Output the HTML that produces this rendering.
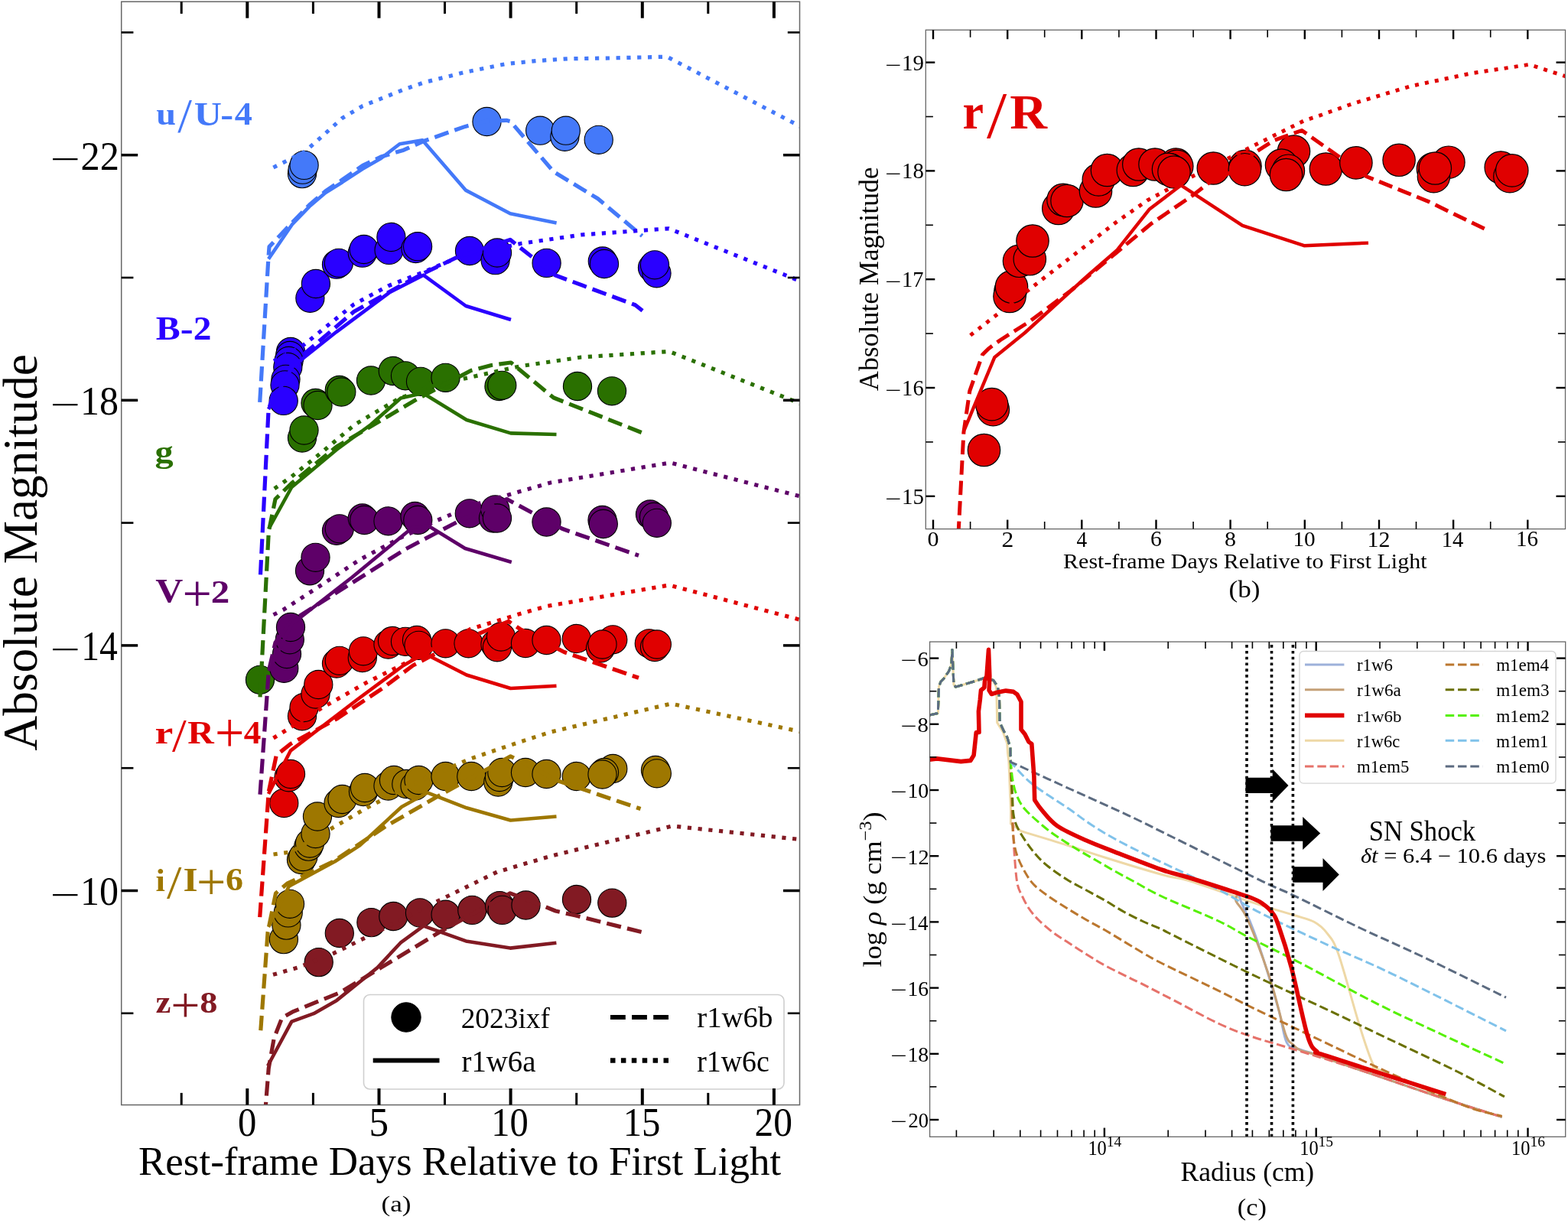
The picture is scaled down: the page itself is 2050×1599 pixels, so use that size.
<!DOCTYPE html>
<html><head><meta charset="utf-8"><title>Figure</title><style>html,body{margin:0;padding:0;background:#fff;}svg{display:block;}</style></head><body>
<svg width="2050" height="1599" viewBox="0 0 2050 1599"><defs><clipPath id="ca"><rect x="158.7" y="2.2" width="886.8" height="1442.4"/></clipPath><clipPath id="cb"><rect x="1210.3" y="39.2" width="836.2" height="652.4"/></clipPath><clipPath id="cc"><rect x="1215.6" y="839.1" width="831.1" height="647.2"/></clipPath></defs><rect width="100%" height="100%" fill="#fff"/><circle cx="395" cy="227.1" r="18.6" fill="#4479F9" stroke="#000" stroke-width="1.1" clip-path="url(#ca)"/>
<circle cx="395.6" cy="221.7" r="18.6" fill="#4479F9" stroke="#000" stroke-width="1.1" clip-path="url(#ca)"/>
<circle cx="397.6" cy="215.9" r="18.6" fill="#4479F9" stroke="#000" stroke-width="1.1" clip-path="url(#ca)"/>
<circle cx="636.5" cy="159" r="18.6" fill="#4479F9" stroke="#000" stroke-width="1.1" clip-path="url(#ca)"/>
<circle cx="706.2" cy="170.7" r="18.6" fill="#4479F9" stroke="#000" stroke-width="1.1" clip-path="url(#ca)"/>
<circle cx="738.4" cy="178.8" r="18.6" fill="#4479F9" stroke="#000" stroke-width="1.1" clip-path="url(#ca)"/>
<circle cx="739.8" cy="170.7" r="18.6" fill="#4479F9" stroke="#000" stroke-width="1.1" clip-path="url(#ca)"/>
<circle cx="782.7" cy="182.8" r="18.6" fill="#4479F9" stroke="#000" stroke-width="1.1" clip-path="url(#ca)"/>
<circle cx="380" cy="460" r="18.6" fill="#2A00FF" stroke="#000" stroke-width="1.1" clip-path="url(#ca)"/>
<circle cx="379.1" cy="465" r="18.6" fill="#2A00FF" stroke="#000" stroke-width="1.1" clip-path="url(#ca)"/>
<circle cx="377.5" cy="472" r="18.6" fill="#2A00FF" stroke="#000" stroke-width="1.1" clip-path="url(#ca)"/>
<circle cx="376.3" cy="480" r="18.6" fill="#2A00FF" stroke="#000" stroke-width="1.1" clip-path="url(#ca)"/>
<circle cx="373.5" cy="495.8" r="18.6" fill="#2A00FF" stroke="#000" stroke-width="1.1" clip-path="url(#ca)"/>
<circle cx="372.5" cy="503.3" r="18.6" fill="#2A00FF" stroke="#000" stroke-width="1.1" clip-path="url(#ca)"/>
<circle cx="370.7" cy="523.9" r="18.6" fill="#2A00FF" stroke="#000" stroke-width="1.1" clip-path="url(#ca)"/>
<circle cx="405.4" cy="389.8" r="18.6" fill="#2A00FF" stroke="#000" stroke-width="1.1" clip-path="url(#ca)"/>
<circle cx="412.9" cy="371" r="18.6" fill="#2A00FF" stroke="#000" stroke-width="1.1" clip-path="url(#ca)"/>
<circle cx="440" cy="345.7" r="18.6" fill="#2A00FF" stroke="#000" stroke-width="1.1" clip-path="url(#ca)"/>
<circle cx="442.9" cy="343.8" r="18.6" fill="#2A00FF" stroke="#000" stroke-width="1.1" clip-path="url(#ca)"/>
<circle cx="473.8" cy="330.7" r="18.6" fill="#2A00FF" stroke="#000" stroke-width="1.1" clip-path="url(#ca)"/>
<circle cx="475.7" cy="326" r="18.6" fill="#2A00FF" stroke="#000" stroke-width="1.1" clip-path="url(#ca)"/>
<circle cx="508.6" cy="326.9" r="18.6" fill="#2A00FF" stroke="#000" stroke-width="1.1" clip-path="url(#ca)"/>
<circle cx="511.4" cy="310" r="18.6" fill="#2A00FF" stroke="#000" stroke-width="1.1" clip-path="url(#ca)"/>
<circle cx="543.5" cy="325" r="18.6" fill="#2A00FF" stroke="#000" stroke-width="1.1" clip-path="url(#ca)"/>
<circle cx="546.1" cy="322.2" r="18.6" fill="#2A00FF" stroke="#000" stroke-width="1.1" clip-path="url(#ca)"/>
<circle cx="614" cy="328" r="18.6" fill="#2A00FF" stroke="#000" stroke-width="1.1" clip-path="url(#ca)"/>
<circle cx="647.6" cy="340.2" r="18.6" fill="#2A00FF" stroke="#000" stroke-width="1.1" clip-path="url(#ca)"/>
<circle cx="650" cy="330.5" r="18.6" fill="#2A00FF" stroke="#000" stroke-width="1.1" clip-path="url(#ca)"/>
<circle cx="714.6" cy="343.9" r="18.6" fill="#2A00FF" stroke="#000" stroke-width="1.1" clip-path="url(#ca)"/>
<circle cx="787.8" cy="341.5" r="18.6" fill="#2A00FF" stroke="#000" stroke-width="1.1" clip-path="url(#ca)"/>
<circle cx="790" cy="345" r="18.6" fill="#2A00FF" stroke="#000" stroke-width="1.1" clip-path="url(#ca)"/>
<circle cx="853" cy="350" r="18.6" fill="#2A00FF" stroke="#000" stroke-width="1.1" clip-path="url(#ca)"/>
<circle cx="858.5" cy="357.3" r="18.6" fill="#2A00FF" stroke="#000" stroke-width="1.1" clip-path="url(#ca)"/>
<circle cx="856" cy="346.3" r="18.6" fill="#2A00FF" stroke="#000" stroke-width="1.1" clip-path="url(#ca)"/>
<circle cx="340" cy="888.8" r="18.6" fill="#2A7000" stroke="#000" stroke-width="1.1" clip-path="url(#ca)"/>
<circle cx="395" cy="572.5" r="18.6" fill="#2A7000" stroke="#000" stroke-width="1.1" clip-path="url(#ca)"/>
<circle cx="397.5" cy="562.5" r="18.6" fill="#2A7000" stroke="#000" stroke-width="1.1" clip-path="url(#ca)"/>
<circle cx="412.5" cy="527" r="18.6" fill="#2A7000" stroke="#000" stroke-width="1.1" clip-path="url(#ca)"/>
<circle cx="415.5" cy="530" r="18.6" fill="#2A7000" stroke="#000" stroke-width="1.1" clip-path="url(#ca)"/>
<circle cx="443.8" cy="510" r="18.6" fill="#2A7000" stroke="#000" stroke-width="1.1" clip-path="url(#ca)"/>
<circle cx="446.3" cy="512.5" r="18.6" fill="#2A7000" stroke="#000" stroke-width="1.1" clip-path="url(#ca)"/>
<circle cx="485" cy="497.5" r="18.6" fill="#2A7000" stroke="#000" stroke-width="1.1" clip-path="url(#ca)"/>
<circle cx="513.8" cy="485" r="18.6" fill="#2A7000" stroke="#000" stroke-width="1.1" clip-path="url(#ca)"/>
<circle cx="530" cy="491.3" r="18.6" fill="#2A7000" stroke="#000" stroke-width="1.1" clip-path="url(#ca)"/>
<circle cx="550" cy="498.8" r="18.6" fill="#2A7000" stroke="#000" stroke-width="1.1" clip-path="url(#ca)"/>
<circle cx="582.5" cy="493.8" r="18.6" fill="#2A7000" stroke="#000" stroke-width="1.1" clip-path="url(#ca)"/>
<circle cx="652.5" cy="505" r="18.6" fill="#2A7000" stroke="#000" stroke-width="1.1" clip-path="url(#ca)"/>
<circle cx="656.3" cy="503.8" r="18.6" fill="#2A7000" stroke="#000" stroke-width="1.1" clip-path="url(#ca)"/>
<circle cx="755" cy="505" r="18.6" fill="#2A7000" stroke="#000" stroke-width="1.1" clip-path="url(#ca)"/>
<circle cx="800" cy="511.3" r="18.6" fill="#2A7000" stroke="#000" stroke-width="1.1" clip-path="url(#ca)"/>
<circle cx="371.3" cy="873.8" r="18.6" fill="#5E0068" stroke="#000" stroke-width="1.1" clip-path="url(#ca)"/>
<circle cx="375" cy="855" r="18.6" fill="#5E0068" stroke="#000" stroke-width="1.1" clip-path="url(#ca)"/>
<circle cx="378.8" cy="836.3" r="18.6" fill="#5E0068" stroke="#000" stroke-width="1.1" clip-path="url(#ca)"/>
<circle cx="380" cy="820" r="18.6" fill="#5E0068" stroke="#000" stroke-width="1.1" clip-path="url(#ca)"/>
<circle cx="405" cy="746.3" r="18.6" fill="#5E0068" stroke="#000" stroke-width="1.1" clip-path="url(#ca)"/>
<circle cx="412.5" cy="728.8" r="18.6" fill="#5E0068" stroke="#000" stroke-width="1.1" clip-path="url(#ca)"/>
<circle cx="440" cy="693.8" r="18.6" fill="#5E0068" stroke="#000" stroke-width="1.1" clip-path="url(#ca)"/>
<circle cx="443.8" cy="691.3" r="18.6" fill="#5E0068" stroke="#000" stroke-width="1.1" clip-path="url(#ca)"/>
<circle cx="473.8" cy="677.5" r="18.6" fill="#5E0068" stroke="#000" stroke-width="1.1" clip-path="url(#ca)"/>
<circle cx="476.3" cy="680" r="18.6" fill="#5E0068" stroke="#000" stroke-width="1.1" clip-path="url(#ca)"/>
<circle cx="507.5" cy="681.3" r="18.6" fill="#5E0068" stroke="#000" stroke-width="1.1" clip-path="url(#ca)"/>
<circle cx="542.5" cy="675" r="18.6" fill="#5E0068" stroke="#000" stroke-width="1.1" clip-path="url(#ca)"/>
<circle cx="546.3" cy="680" r="18.6" fill="#5E0068" stroke="#000" stroke-width="1.1" clip-path="url(#ca)"/>
<circle cx="613.8" cy="671.3" r="18.6" fill="#5E0068" stroke="#000" stroke-width="1.1" clip-path="url(#ca)"/>
<circle cx="645" cy="677.5" r="18.6" fill="#5E0068" stroke="#000" stroke-width="1.1" clip-path="url(#ca)"/>
<circle cx="647.5" cy="666.3" r="18.6" fill="#5E0068" stroke="#000" stroke-width="1.1" clip-path="url(#ca)"/>
<circle cx="650" cy="677.5" r="18.6" fill="#5E0068" stroke="#000" stroke-width="1.1" clip-path="url(#ca)"/>
<circle cx="714.5" cy="682.5" r="18.6" fill="#5E0068" stroke="#000" stroke-width="1.1" clip-path="url(#ca)"/>
<circle cx="787.5" cy="680" r="18.6" fill="#5E0068" stroke="#000" stroke-width="1.1" clip-path="url(#ca)"/>
<circle cx="788.8" cy="685" r="18.6" fill="#5E0068" stroke="#000" stroke-width="1.1" clip-path="url(#ca)"/>
<circle cx="850" cy="672.5" r="18.6" fill="#5E0068" stroke="#000" stroke-width="1.1" clip-path="url(#ca)"/>
<circle cx="855" cy="676" r="18.6" fill="#5E0068" stroke="#000" stroke-width="1.1" clip-path="url(#ca)"/>
<circle cx="858.8" cy="683.8" r="18.6" fill="#5E0068" stroke="#000" stroke-width="1.1" clip-path="url(#ca)"/>
<circle cx="371.3" cy="1050" r="18.6" fill="#E00000" stroke="#000" stroke-width="1.1" clip-path="url(#ca)"/>
<circle cx="377.5" cy="1016.3" r="18.6" fill="#E00000" stroke="#000" stroke-width="1.1" clip-path="url(#ca)"/>
<circle cx="380" cy="1012" r="18.6" fill="#E00000" stroke="#000" stroke-width="1.1" clip-path="url(#ca)"/>
<circle cx="395" cy="936.3" r="18.6" fill="#E00000" stroke="#000" stroke-width="1.1" clip-path="url(#ca)"/>
<circle cx="397.5" cy="925" r="18.6" fill="#E00000" stroke="#000" stroke-width="1.1" clip-path="url(#ca)"/>
<circle cx="412.5" cy="907.5" r="18.6" fill="#E00000" stroke="#000" stroke-width="1.1" clip-path="url(#ca)"/>
<circle cx="416.3" cy="895" r="18.6" fill="#E00000" stroke="#000" stroke-width="1.1" clip-path="url(#ca)"/>
<circle cx="440" cy="867.5" r="18.6" fill="#E00000" stroke="#000" stroke-width="1.1" clip-path="url(#ca)"/>
<circle cx="443.8" cy="863.8" r="18.6" fill="#E00000" stroke="#000" stroke-width="1.1" clip-path="url(#ca)"/>
<circle cx="473.8" cy="860" r="18.6" fill="#E00000" stroke="#000" stroke-width="1.1" clip-path="url(#ca)"/>
<circle cx="475" cy="851.3" r="18.6" fill="#E00000" stroke="#000" stroke-width="1.1" clip-path="url(#ca)"/>
<circle cx="507.5" cy="842.5" r="18.6" fill="#E00000" stroke="#000" stroke-width="1.1" clip-path="url(#ca)"/>
<circle cx="513" cy="838" r="18.6" fill="#E00000" stroke="#000" stroke-width="1.1" clip-path="url(#ca)"/>
<circle cx="530" cy="838.8" r="18.6" fill="#E00000" stroke="#000" stroke-width="1.1" clip-path="url(#ca)"/>
<circle cx="545" cy="837" r="18.6" fill="#E00000" stroke="#000" stroke-width="1.1" clip-path="url(#ca)"/>
<circle cx="547.5" cy="843.8" r="18.6" fill="#E00000" stroke="#000" stroke-width="1.1" clip-path="url(#ca)"/>
<circle cx="582.5" cy="841.3" r="18.6" fill="#E00000" stroke="#000" stroke-width="1.1" clip-path="url(#ca)"/>
<circle cx="612.5" cy="841.3" r="18.6" fill="#E00000" stroke="#000" stroke-width="1.1" clip-path="url(#ca)"/>
<circle cx="647.5" cy="842.5" r="18.6" fill="#E00000" stroke="#000" stroke-width="1.1" clip-path="url(#ca)"/>
<circle cx="650" cy="846.3" r="18.6" fill="#E00000" stroke="#000" stroke-width="1.1" clip-path="url(#ca)"/>
<circle cx="655" cy="832.5" r="18.6" fill="#E00000" stroke="#000" stroke-width="1.1" clip-path="url(#ca)"/>
<circle cx="687" cy="841" r="18.6" fill="#E00000" stroke="#000" stroke-width="1.1" clip-path="url(#ca)"/>
<circle cx="714.5" cy="837" r="18.6" fill="#E00000" stroke="#000" stroke-width="1.1" clip-path="url(#ca)"/>
<circle cx="753.8" cy="835" r="18.6" fill="#E00000" stroke="#000" stroke-width="1.1" clip-path="url(#ca)"/>
<circle cx="801.3" cy="836.3" r="18.6" fill="#E00000" stroke="#000" stroke-width="1.1" clip-path="url(#ca)"/>
<circle cx="785" cy="847.5" r="18.6" fill="#E00000" stroke="#000" stroke-width="1.1" clip-path="url(#ca)"/>
<circle cx="787.5" cy="842.5" r="18.6" fill="#E00000" stroke="#000" stroke-width="1.1" clip-path="url(#ca)"/>
<circle cx="848.8" cy="841.3" r="18.6" fill="#E00000" stroke="#000" stroke-width="1.1" clip-path="url(#ca)"/>
<circle cx="856" cy="846" r="18.6" fill="#E00000" stroke="#000" stroke-width="1.1" clip-path="url(#ca)"/>
<circle cx="858.8" cy="842.5" r="18.6" fill="#E00000" stroke="#000" stroke-width="1.1" clip-path="url(#ca)"/>
<circle cx="370.9" cy="1228.1" r="18.6" fill="#9E7700" stroke="#000" stroke-width="1.1" clip-path="url(#ca)"/>
<circle cx="374.4" cy="1209.6" r="18.6" fill="#9E7700" stroke="#000" stroke-width="1.1" clip-path="url(#ca)"/>
<circle cx="376.7" cy="1193.4" r="18.6" fill="#9E7700" stroke="#000" stroke-width="1.1" clip-path="url(#ca)"/>
<circle cx="379" cy="1181.8" r="18.6" fill="#9E7700" stroke="#000" stroke-width="1.1" clip-path="url(#ca)"/>
<circle cx="394" cy="1124" r="18.6" fill="#9E7700" stroke="#000" stroke-width="1.1" clip-path="url(#ca)"/>
<circle cx="396.3" cy="1120" r="18.6" fill="#9E7700" stroke="#000" stroke-width="1.1" clip-path="url(#ca)"/>
<circle cx="403.3" cy="1106.6" r="18.6" fill="#9E7700" stroke="#000" stroke-width="1.1" clip-path="url(#ca)"/>
<circle cx="405" cy="1102.5" r="18.6" fill="#9E7700" stroke="#000" stroke-width="1.1" clip-path="url(#ca)"/>
<circle cx="412.5" cy="1090" r="18.6" fill="#9E7700" stroke="#000" stroke-width="1.1" clip-path="url(#ca)"/>
<circle cx="415" cy="1067.5" r="18.6" fill="#9E7700" stroke="#000" stroke-width="1.1" clip-path="url(#ca)"/>
<circle cx="442.5" cy="1050" r="18.6" fill="#9E7700" stroke="#000" stroke-width="1.1" clip-path="url(#ca)"/>
<circle cx="447.5" cy="1045" r="18.6" fill="#9E7700" stroke="#000" stroke-width="1.1" clip-path="url(#ca)"/>
<circle cx="475" cy="1035" r="18.6" fill="#9E7700" stroke="#000" stroke-width="1.1" clip-path="url(#ca)"/>
<circle cx="477" cy="1030" r="18.6" fill="#9E7700" stroke="#000" stroke-width="1.1" clip-path="url(#ca)"/>
<circle cx="507.5" cy="1027.5" r="18.6" fill="#9E7700" stroke="#000" stroke-width="1.1" clip-path="url(#ca)"/>
<circle cx="515" cy="1020" r="18.6" fill="#9E7700" stroke="#000" stroke-width="1.1" clip-path="url(#ca)"/>
<circle cx="531.3" cy="1025" r="18.6" fill="#9E7700" stroke="#000" stroke-width="1.1" clip-path="url(#ca)"/>
<circle cx="542.5" cy="1027.5" r="18.6" fill="#9E7700" stroke="#000" stroke-width="1.1" clip-path="url(#ca)"/>
<circle cx="547.5" cy="1020" r="18.6" fill="#9E7700" stroke="#000" stroke-width="1.1" clip-path="url(#ca)"/>
<circle cx="582.5" cy="1015" r="18.6" fill="#9E7700" stroke="#000" stroke-width="1.1" clip-path="url(#ca)"/>
<circle cx="616.3" cy="1015" r="18.6" fill="#9E7700" stroke="#000" stroke-width="1.1" clip-path="url(#ca)"/>
<circle cx="651.3" cy="1022.5" r="18.6" fill="#9E7700" stroke="#000" stroke-width="1.1" clip-path="url(#ca)"/>
<circle cx="653" cy="1016" r="18.6" fill="#9E7700" stroke="#000" stroke-width="1.1" clip-path="url(#ca)"/>
<circle cx="656.3" cy="1010" r="18.6" fill="#9E7700" stroke="#000" stroke-width="1.1" clip-path="url(#ca)"/>
<circle cx="687" cy="1010" r="18.6" fill="#9E7700" stroke="#000" stroke-width="1.1" clip-path="url(#ca)"/>
<circle cx="714.5" cy="1012" r="18.6" fill="#9E7700" stroke="#000" stroke-width="1.1" clip-path="url(#ca)"/>
<circle cx="753.8" cy="1015" r="18.6" fill="#9E7700" stroke="#000" stroke-width="1.1" clip-path="url(#ca)"/>
<circle cx="801.3" cy="1005" r="18.6" fill="#9E7700" stroke="#000" stroke-width="1.1" clip-path="url(#ca)"/>
<circle cx="790" cy="1010" r="18.6" fill="#9E7700" stroke="#000" stroke-width="1.1" clip-path="url(#ca)"/>
<circle cx="787.5" cy="1012.5" r="18.6" fill="#9E7700" stroke="#000" stroke-width="1.1" clip-path="url(#ca)"/>
<circle cx="857" cy="1007" r="18.6" fill="#9E7700" stroke="#000" stroke-width="1.1" clip-path="url(#ca)"/>
<circle cx="858.8" cy="1011.3" r="18.6" fill="#9E7700" stroke="#000" stroke-width="1.1" clip-path="url(#ca)"/>
<circle cx="416.7" cy="1258.1" r="18.6" fill="#821A23" stroke="#000" stroke-width="1.1" clip-path="url(#ca)"/>
<circle cx="443.8" cy="1220" r="18.6" fill="#821A23" stroke="#000" stroke-width="1.1" clip-path="url(#ca)"/>
<circle cx="485.4" cy="1206.1" r="18.6" fill="#821A23" stroke="#000" stroke-width="1.1" clip-path="url(#ca)"/>
<circle cx="514.3" cy="1198" r="18.6" fill="#821A23" stroke="#000" stroke-width="1.1" clip-path="url(#ca)"/>
<circle cx="549" cy="1193.4" r="18.6" fill="#821A23" stroke="#000" stroke-width="1.1" clip-path="url(#ca)"/>
<circle cx="582.6" cy="1195.7" r="18.6" fill="#821A23" stroke="#000" stroke-width="1.1" clip-path="url(#ca)"/>
<circle cx="617.3" cy="1189.9" r="18.6" fill="#821A23" stroke="#000" stroke-width="1.1" clip-path="url(#ca)"/>
<circle cx="653.1" cy="1184.1" r="18.6" fill="#821A23" stroke="#000" stroke-width="1.1" clip-path="url(#ca)"/>
<circle cx="656.6" cy="1189.9" r="18.6" fill="#821A23" stroke="#000" stroke-width="1.1" clip-path="url(#ca)"/>
<circle cx="687.5" cy="1183.5" r="18.6" fill="#821A23" stroke="#000" stroke-width="1.1" clip-path="url(#ca)"/>
<circle cx="754" cy="1176" r="18.6" fill="#821A23" stroke="#000" stroke-width="1.1" clip-path="url(#ca)"/>
<circle cx="800.3" cy="1180.6" r="18.6" fill="#821A23" stroke="#000" stroke-width="1.1" clip-path="url(#ca)"/>
<polyline points="357.4,219 397.7,198.9 420.5,178.8 447.3,154.6 474.2,138.5 501,127.8 527.8,117.1 554.7,107.7 581.5,101 608.3,94.3 635.1,88.9 662,83.5 702.2,79.5 742.5,76.8 796.1,76 872,74.2 1060,172.4" fill="none" stroke="#4479F9" stroke-width="5.2" stroke-linejoin="round" stroke-dasharray="5.2 8.6" stroke-linecap="butt" clip-path="url(#ca)"/>
<polyline points="339.7,525.8 351,336 352,322.6 381.9,291 404.4,268 425.5,250 447.6,235 474.2,216.4 498,205 527.8,196.2 554.7,184.2 608.3,165.4 635.1,158.5 662,157.3 667.3,158.7 723.7,224.4 781.7,259.8 839.6,308.5" fill="none" stroke="#4479F9" stroke-width="5.2" stroke-linejoin="round" stroke-dasharray="19.2 8.3" stroke-linecap="butt" clip-path="url(#ca)"/>
<polyline points="351,338.6 381.9,293.5 404.4,270.1 425.5,252 447.6,238.2 473.8,221 498.2,207 522.5,188.2 552.3,183.3 608.7,248.6 667.1,279.3 727.6,291.5" fill="none" stroke="#4479F9" stroke-width="4.6" stroke-linejoin="round" stroke-linecap="butt" clip-path="url(#ca)"/>
<polyline points="358,472 395,452.6 462.6,398 507.6,373.8 550.8,356.9 600,336 681.7,318.3 760,307 874.4,298.8 1060,373" fill="none" stroke="#2A00FF" stroke-width="5.2" stroke-linejoin="round" stroke-dasharray="5.2 8.6" stroke-linecap="butt" clip-path="url(#ca)"/>
<polyline points="340.5,751.3 351,537 360,505 381.9,477 395,465 462.6,407.6 526.4,372 554.5,357 597.7,336.3 667,313.4 725.6,359.8 830.5,398.8 840,406.3" fill="none" stroke="#2A00FF" stroke-width="5.2" stroke-linejoin="round" stroke-dasharray="19.2 8.3" stroke-linecap="butt" clip-path="url(#ca)"/>
<polyline points="351,535 381.9,480 395,469.5 440,433.8 509.5,382.2 553.6,359.7 609,400 668,418" fill="none" stroke="#2A00FF" stroke-width="4.6" stroke-linejoin="round" stroke-linecap="butt" clip-path="url(#ca)"/>
<polyline points="358.8,638.8 380,624 420,592 464,555 520,522 560,506 602.5,496 680,478.8 760,467 875,459.5 1060,533" fill="none" stroke="#2A7000" stroke-width="5.2" stroke-linejoin="round" stroke-dasharray="5.2 8.6" stroke-linecap="butt" clip-path="url(#ca)"/>
<polyline points="340,911.3 351.3,695 360,652.5 381,632 440,584 512,541.5 545,522 615.6,484.5 642.5,477.5 668,474 723.8,520 840,566" fill="none" stroke="#2A7000" stroke-width="5.2" stroke-linejoin="round" stroke-dasharray="19.2 8.3" stroke-linecap="butt" clip-path="url(#ca)"/>
<polyline points="351.3,691.4 381.3,637 440,588 485,555 524,520.5 553,514 610,549 667.7,566.4 727.5,568" fill="none" stroke="#2A7000" stroke-width="4.6" stroke-linejoin="round" stroke-linecap="butt" clip-path="url(#ca)"/>
<polyline points="357.5,803.8 370,797.5 420,765 470,732 520,705 570,681 620,660 680,642.5 720,631 876.3,605 1060,652.5" fill="none" stroke="#5E0068" stroke-width="5.2" stroke-linejoin="round" stroke-dasharray="5.2 8.6" stroke-linecap="butt" clip-path="url(#ca)"/>
<polyline points="340,1038.8 351.3,877.5 360,840 381,812 467.5,757.5 530,718 597.5,682.5 662.5,652.5 735,691.3 835,726.3" fill="none" stroke="#5E0068" stroke-width="5.2" stroke-linejoin="round" stroke-dasharray="19.2 8.3" stroke-linecap="butt" clip-path="url(#ca)"/>
<polyline points="351.3,877 381.9,815 392.5,807.5 460,755 500,722 539,690 560,687.5 608,717 668.8,735" fill="none" stroke="#5E0068" stroke-width="4.6" stroke-linejoin="round" stroke-linecap="butt" clip-path="url(#ca)"/>
<polyline points="357.5,965 420,926 480,892 540,862 615,822.5 680,802.5 715,792.5 875,765 1060,814" fill="none" stroke="#E00000" stroke-width="5.2" stroke-linejoin="round" stroke-dasharray="5.2 8.6" stroke-linecap="butt" clip-path="url(#ca)"/>
<polyline points="339.7,1199.1 351.3,1035 361.3,987.5 380,972.5 440,940 500,900 540,870 563.8,857.5 610,835 665,812.5 680,822.5 737.5,852.5 835,886.3" fill="none" stroke="#E00000" stroke-width="5.2" stroke-linejoin="round" stroke-dasharray="19.2 8.3" stroke-linecap="butt" clip-path="url(#ca)"/>
<polyline points="351,1038 380,981.3 470,912.5 527.5,870 545,860 561,857.5 610,882.5 667.5,900 727.5,896.8" fill="none" stroke="#E00000" stroke-width="4.6" stroke-linejoin="round" stroke-linecap="butt" clip-path="url(#ca)"/>
<polyline points="357.5,1117 380,1114 431,1084.6 480,1056 540,1025 615,992 680,970 720,957 877.5,920 1060,959.5" fill="none" stroke="#9E7700" stroke-width="5.2" stroke-linejoin="round" stroke-dasharray="5.2 8.6" stroke-linecap="butt" clip-path="url(#ca)"/>
<polyline points="340.8,1347.2 350.1,1218.8 360.5,1167.9 375.5,1155.2 435.7,1126.3 505,1080 570,1042.5 667.5,988.8 680,995 730,1021 837.5,1057.5" fill="none" stroke="#9E7700" stroke-width="5.2" stroke-linejoin="round" stroke-dasharray="19.2 8.3" stroke-linecap="butt" clip-path="url(#ca)"/>
<polyline points="351,1212 377.8,1158.7 438,1126.3 470.4,1105.4 525,1055 558.8,1036.3 610,1056.3 667.5,1072.5 727.5,1067.5" fill="none" stroke="#9E7700" stroke-width="4.6" stroke-linejoin="round" stroke-linecap="butt" clip-path="url(#ca)"/>
<polyline points="357,1274.3 389.4,1265.1 435.7,1246.6 500,1215 574.5,1177 650,1140 720,1119.3 879,1080 1060,1099" fill="none" stroke="#821A23" stroke-width="5.2" stroke-linejoin="round" stroke-dasharray="5.2 8.6" stroke-linecap="butt" clip-path="url(#ca)"/>
<polyline points="346.2,1460 351.2,1397 358.2,1357.6 368.6,1331 382.5,1322.9 444.9,1297.5 498.1,1265.1 574.5,1218.8 667,1167.9 712.4,1185.3 726.3,1191 751.7,1196.8 839.6,1218.8" fill="none" stroke="#821A23" stroke-width="5.2" stroke-linejoin="round" stroke-dasharray="19.2 8.3" stroke-linecap="butt" clip-path="url(#ca)"/>
<polyline points="350.1,1393.5 381.3,1335.6 410.2,1325.2 440.3,1307.9 493.5,1265.1 523.6,1232.7 553.7,1210.7 609.2,1230.4 667,1239.6 727.4,1232.7" fill="none" stroke="#821A23" stroke-width="4.6" stroke-linejoin="round" stroke-linecap="butt" clip-path="url(#ca)"/>
<text x="204.2" y="162.7" font-size="41.2" fill="#4479F9" textLength="25.7" lengthAdjust="spacingAndGlyphs" font-weight="bold" font-family="'Liberation Serif', serif" style="font-kerning:none">u</text>
<text x="232.3" y="173.2" font-size="63.5" fill="#4479F9" textLength="18.7" lengthAdjust="spacingAndGlyphs" font-family="'Liberation Serif', serif" style="font-kerning:none">/</text>
<text x="253.8" y="163.5" font-size="44.6" fill="#4479F9" textLength="36.2" lengthAdjust="spacingAndGlyphs" font-weight="bold" font-family="'Liberation Serif', serif" style="font-kerning:none">U</text>
<text x="288.2" y="165.2" font-size="48.3" fill="#4479F9" textLength="16.9" lengthAdjust="spacingAndGlyphs" font-weight="bold" font-family="'Liberation Serif', serif" style="font-kerning:none">-</text>
<text x="306.7" y="163.2" font-size="42.8" fill="#4479F9" textLength="23.1" lengthAdjust="spacingAndGlyphs" font-weight="bold" font-family="'Liberation Serif', serif" style="font-kerning:none">4</text>
<text x="203.7" y="443.7" font-size="44.5" fill="#2A00FF" textLength="31.9" lengthAdjust="spacingAndGlyphs" font-weight="bold" font-family="'Liberation Serif', serif" style="font-kerning:none">B</text>
<text x="235.8" y="444.9" font-size="45.9" fill="#2A00FF" textLength="16.9" lengthAdjust="spacingAndGlyphs" font-weight="bold" font-family="'Liberation Serif', serif" style="font-kerning:none">-</text>
<text x="252.8" y="443.8" font-size="43.5" fill="#2A00FF" textLength="23.7" lengthAdjust="spacingAndGlyphs" font-weight="bold" font-family="'Liberation Serif', serif" style="font-kerning:none">2</text>
<text x="202.6" y="604" font-size="39.2" fill="#2A7000" textLength="24.1" lengthAdjust="spacingAndGlyphs" font-weight="bold" font-family="'Liberation Serif', serif" style="font-kerning:none">g</text>
<text x="203.2" y="787.3" font-size="43.7" fill="#5E0068" textLength="36.1" lengthAdjust="spacingAndGlyphs" font-weight="bold" font-family="'Liberation Serif', serif" style="font-kerning:none">V</text>
<text x="238.6" y="798.7" font-size="68.1" fill="#5E0068" textLength="38.4" lengthAdjust="spacingAndGlyphs" font-family="'Liberation Serif', serif" style="font-kerning:none">+</text>
<text x="275.7" y="788" font-size="43" fill="#5E0068" textLength="24.5" lengthAdjust="spacingAndGlyphs" font-weight="bold" font-family="'Liberation Serif', serif" style="font-kerning:none">2</text>
<text x="202.4" y="971.7" font-size="42.9" fill="#E00000" textLength="23.8" lengthAdjust="spacingAndGlyphs" font-weight="bold" font-family="'Liberation Serif', serif" style="font-kerning:none">r</text>
<text x="225" y="981.7" font-size="62" fill="#E00000" textLength="18.7" lengthAdjust="spacingAndGlyphs" font-family="'Liberation Serif', serif" style="font-kerning:none">/</text>
<text x="245.3" y="971.7" font-size="42.3" fill="#E00000" textLength="34.5" lengthAdjust="spacingAndGlyphs" font-weight="bold" font-family="'Liberation Serif', serif" style="font-kerning:none">R</text>
<text x="280.9" y="983.1" font-size="73.4" fill="#E00000" textLength="38.4" lengthAdjust="spacingAndGlyphs" font-family="'Liberation Serif', serif" style="font-kerning:none">+</text>
<text x="318.7" y="971.7" font-size="42.1" fill="#E00000" textLength="22.6" lengthAdjust="spacingAndGlyphs" font-weight="bold" font-family="'Liberation Serif', serif" style="font-kerning:none">4</text>
<text x="203.4" y="1164.6" font-size="42.5" fill="#9E7700" textLength="12.4" lengthAdjust="spacingAndGlyphs" font-weight="bold" font-family="'Liberation Serif', serif" style="font-kerning:none">i</text>
<text x="218.1" y="1174.1" font-size="62.3" fill="#9E7700" textLength="19.4" lengthAdjust="spacingAndGlyphs" font-family="'Liberation Serif', serif" style="font-kerning:none">/</text>
<text x="239.4" y="1164.6" font-size="44" fill="#9E7700" textLength="19.1" lengthAdjust="spacingAndGlyphs" font-weight="bold" font-family="'Liberation Serif', serif" style="font-kerning:none">I</text>
<text x="257.1" y="1176.3" font-size="67.8" fill="#9E7700" textLength="38.4" lengthAdjust="spacingAndGlyphs" font-family="'Liberation Serif', serif" style="font-kerning:none">+</text>
<text x="294.9" y="1164.2" font-size="41.8" fill="#9E7700" textLength="23" lengthAdjust="spacingAndGlyphs" font-weight="bold" font-family="'Liberation Serif', serif" style="font-kerning:none">6</text>
<text x="203.5" y="1324.3" font-size="40.7" fill="#821A23" textLength="19.9" lengthAdjust="spacingAndGlyphs" font-weight="bold" font-family="'Liberation Serif', serif" style="font-kerning:none">z</text>
<text x="223.3" y="1336" font-size="66.5" fill="#821A23" textLength="38.3" lengthAdjust="spacingAndGlyphs" font-family="'Liberation Serif', serif" style="font-kerning:none">+</text>
<text x="261.2" y="1323.9" font-size="40.5" fill="#821A23" textLength="23.2" lengthAdjust="spacingAndGlyphs" font-weight="bold" font-family="'Liberation Serif', serif" style="font-kerning:none">8</text>
<rect x="475.5" y="1300.5" width="549.5" height="123.5" rx="8" ry="8" fill="#fff" fill-opacity="0.85" stroke="#cfcfcf" stroke-width="1.6"/>
<circle cx="531" cy="1330" r="19.2" fill="#000" stroke="#000" stroke-width="1"/>
<text x="602.7" y="1343.9" font-size="38.4" fill="#000" textLength="116.2" lengthAdjust="spacingAndGlyphs" font-family="'Liberation Serif', serif" style="font-kerning:none">2023ixf</text>
<line x1="487.7" y1="1386.5" x2="574.5" y2="1386.5" stroke="#000" stroke-width="6" />
<text x="603.5" y="1400.5" font-size="39.6" fill="#000" textLength="97" lengthAdjust="spacingAndGlyphs" font-family="'Liberation Serif', serif" style="font-kerning:none">r1w6a</text>
<polyline points="798,1330 874.3,1330" fill="none" stroke="#000" stroke-width="6" stroke-linejoin="round" stroke-dasharray="19.8 8.3" stroke-linecap="butt"/>
<text x="911.2" y="1343.4" font-size="38.2" fill="#000" textLength="99.3" lengthAdjust="spacingAndGlyphs" font-family="'Liberation Serif', serif" style="font-kerning:none">r1w6b</text>
<polyline points="798,1386.5 874.3,1386.5" fill="none" stroke="#000" stroke-width="6.5" stroke-linejoin="round" stroke-dasharray="6.5 7.4" stroke-linecap="butt"/>
<text x="911.2" y="1400.5" font-size="39.6" fill="#000" textLength="94.6" lengthAdjust="spacingAndGlyphs" font-family="'Liberation Serif', serif" style="font-kerning:none">r1w6c</text>
<rect x="158.7" y="2.2" width="886.8" height="1442.4" fill="none" stroke="#666" stroke-width="1.5"/>
<line x1="323.3" y1="1444.6" x2="323.3" y2="1423.1" stroke="#000" stroke-width="4" />
<line x1="323.3" y1="2.2" x2="323.3" y2="23.7" stroke="#000" stroke-width="4" />
<line x1="495.5" y1="1444.6" x2="495.5" y2="1423.1" stroke="#000" stroke-width="4" />
<line x1="495.5" y1="2.2" x2="495.5" y2="23.7" stroke="#000" stroke-width="4" />
<line x1="667.6" y1="1444.6" x2="667.6" y2="1423.1" stroke="#000" stroke-width="4" />
<line x1="667.6" y1="2.2" x2="667.6" y2="23.7" stroke="#000" stroke-width="4" />
<line x1="839.8" y1="1444.6" x2="839.8" y2="1423.1" stroke="#000" stroke-width="4" />
<line x1="839.8" y1="2.2" x2="839.8" y2="23.7" stroke="#000" stroke-width="4" />
<line x1="1011.9" y1="1444.6" x2="1011.9" y2="1423.1" stroke="#000" stroke-width="4" />
<line x1="1011.9" y1="2.2" x2="1011.9" y2="23.7" stroke="#000" stroke-width="4" />
<line x1="237.2" y1="1444.6" x2="237.2" y2="1428.9" stroke="#000" stroke-width="3" />
<line x1="237.2" y1="2.2" x2="237.2" y2="17.9" stroke="#000" stroke-width="3" />
<line x1="409.4" y1="1444.6" x2="409.4" y2="1428.9" stroke="#000" stroke-width="3" />
<line x1="409.4" y1="2.2" x2="409.4" y2="17.9" stroke="#000" stroke-width="3" />
<line x1="581.5" y1="1444.6" x2="581.5" y2="1428.9" stroke="#000" stroke-width="3" />
<line x1="581.5" y1="2.2" x2="581.5" y2="17.9" stroke="#000" stroke-width="3" />
<line x1="753.7" y1="1444.6" x2="753.7" y2="1428.9" stroke="#000" stroke-width="3" />
<line x1="753.7" y1="2.2" x2="753.7" y2="17.9" stroke="#000" stroke-width="3" />
<line x1="925.8" y1="1444.6" x2="925.8" y2="1428.9" stroke="#000" stroke-width="3" />
<line x1="925.8" y1="2.2" x2="925.8" y2="17.9" stroke="#000" stroke-width="3" />
<line x1="158.7" y1="202.7" x2="180.2" y2="202.7" stroke="#000" stroke-width="3.5" />
<line x1="1045.5" y1="202.7" x2="1024" y2="202.7" stroke="#000" stroke-width="3.5" />
<line x1="158.7" y1="523.3" x2="180.2" y2="523.3" stroke="#000" stroke-width="3.5" />
<line x1="1045.5" y1="523.3" x2="1024" y2="523.3" stroke="#000" stroke-width="3.5" />
<line x1="158.7" y1="843.9" x2="180.2" y2="843.9" stroke="#000" stroke-width="3.5" />
<line x1="1045.5" y1="843.9" x2="1024" y2="843.9" stroke="#000" stroke-width="3.5" />
<line x1="158.7" y1="1164.5" x2="180.2" y2="1164.5" stroke="#000" stroke-width="3.5" />
<line x1="1045.5" y1="1164.5" x2="1024" y2="1164.5" stroke="#000" stroke-width="3.5" />
<line x1="158.7" y1="42.4" x2="174.4" y2="42.4" stroke="#000" stroke-width="2.6" />
<line x1="1045.5" y1="42.4" x2="1029.8" y2="42.4" stroke="#000" stroke-width="2.6" />
<line x1="158.7" y1="363" x2="174.4" y2="363" stroke="#000" stroke-width="2.6" />
<line x1="1045.5" y1="363" x2="1029.8" y2="363" stroke="#000" stroke-width="2.6" />
<line x1="158.7" y1="683.6" x2="174.4" y2="683.6" stroke="#000" stroke-width="2.6" />
<line x1="1045.5" y1="683.6" x2="1029.8" y2="683.6" stroke="#000" stroke-width="2.6" />
<line x1="158.7" y1="1004.2" x2="174.4" y2="1004.2" stroke="#000" stroke-width="2.6" />
<line x1="1045.5" y1="1004.2" x2="1029.8" y2="1004.2" stroke="#000" stroke-width="2.6" />
<line x1="158.7" y1="1324.8" x2="174.4" y2="1324.8" stroke="#000" stroke-width="2.6" />
<line x1="1045.5" y1="1324.8" x2="1029.8" y2="1324.8" stroke="#000" stroke-width="2.6" />
<text x="65.7" y="223.2" font-size="44.2" fill="#000" textLength="39.3" lengthAdjust="spacingAndGlyphs" font-family="'Liberation Serif', serif" style="font-kerning:none">−</text>
<text x="105.6" y="221.5" font-size="53.8" fill="#000" textLength="50.4" lengthAdjust="spacingAndGlyphs" font-family="'Liberation Serif', serif" style="font-kerning:none">22</text>
<text x="65.7" y="543.8" font-size="44.2" fill="#000" textLength="39.3" lengthAdjust="spacingAndGlyphs" font-family="'Liberation Serif', serif" style="font-kerning:none">−</text>
<text x="105.1" y="541.6" font-size="52.8" fill="#000" textLength="50" lengthAdjust="spacingAndGlyphs" font-family="'Liberation Serif', serif" style="font-kerning:none">18</text>
<text x="65.7" y="864.4" font-size="44.2" fill="#000" textLength="39.3" lengthAdjust="spacingAndGlyphs" font-family="'Liberation Serif', serif" style="font-kerning:none">−</text>
<text x="106.3" y="862.7" font-size="53.9" fill="#000" textLength="47.6" lengthAdjust="spacingAndGlyphs" font-family="'Liberation Serif', serif" style="font-kerning:none">14</text>
<text x="65.7" y="1185" font-size="44.2" fill="#000" textLength="39.3" lengthAdjust="spacingAndGlyphs" font-family="'Liberation Serif', serif" style="font-kerning:none">−</text>
<text x="105.1" y="1182.8" font-size="52.8" fill="#000" textLength="50" lengthAdjust="spacingAndGlyphs" font-family="'Liberation Serif', serif" style="font-kerning:none">10</text>
<text x="310.9" y="1485.1" font-size="52.5" fill="#000" textLength="24.3" lengthAdjust="spacingAndGlyphs" font-family="'Liberation Serif', serif" style="font-kerning:none">0</text>
<text x="482.6" y="1485.1" font-size="53.3" fill="#000" textLength="25.6" lengthAdjust="spacingAndGlyphs" font-family="'Liberation Serif', serif" style="font-kerning:none">5</text>
<text x="642.2" y="1485.1" font-size="52.5" fill="#000" textLength="48.6" lengthAdjust="spacingAndGlyphs" font-family="'Liberation Serif', serif" style="font-kerning:none">10</text>
<text x="814.7" y="1485.1" font-size="52.8" fill="#000" textLength="48.7" lengthAdjust="spacingAndGlyphs" font-family="'Liberation Serif', serif" style="font-kerning:none">15</text>
<text x="986.6" y="1485.1" font-size="52.5" fill="#000" textLength="49.5" lengthAdjust="spacingAndGlyphs" font-family="'Liberation Serif', serif" style="font-kerning:none">20</text>
<text x="181" y="1536.1" font-size="52.1" fill="#000" textLength="840.3" lengthAdjust="spacingAndGlyphs" font-family="'Liberation Serif', serif" style="font-kerning:none">Rest-frame Days Relative to First Light</text>
<text x="498.5" y="1584" font-size="30.3" fill="#000" textLength="39.1" lengthAdjust="spacingAndGlyphs" font-family="'Liberation Serif', serif" style="font-kerning:none">(a)</text>
<text transform="translate(48.4 981.5) rotate(-90)" x="0" y="0" font-size="64.2" fill="#000" textLength="518.4" lengthAdjust="spacingAndGlyphs" font-family="'Liberation Serif', serif" style="font-kerning:none">Absolute Magnitude</text>
<circle cx="1286.5" cy="588.5" r="21.2" fill="#E00000" stroke="#000" stroke-width="1.2" clip-path="url(#cb)"/>
<circle cx="1298.4" cy="535.6" r="21.2" fill="#E00000" stroke="#000" stroke-width="1.2" clip-path="url(#cb)"/>
<circle cx="1296.7" cy="528.6" r="21.2" fill="#E00000" stroke="#000" stroke-width="1.2" clip-path="url(#cb)"/>
<circle cx="1321" cy="381" r="21.2" fill="#E00000" stroke="#000" stroke-width="1.2" clip-path="url(#cb)"/>
<circle cx="1320" cy="387.5" r="21.2" fill="#E00000" stroke="#000" stroke-width="1.2" clip-path="url(#cb)"/>
<circle cx="1322.5" cy="375" r="21.2" fill="#E00000" stroke="#000" stroke-width="1.2" clip-path="url(#cb)"/>
<circle cx="1332.5" cy="341.3" r="21.2" fill="#E00000" stroke="#000" stroke-width="1.2" clip-path="url(#cb)"/>
<circle cx="1346.3" cy="338.8" r="21.2" fill="#E00000" stroke="#000" stroke-width="1.2" clip-path="url(#cb)"/>
<circle cx="1350" cy="315" r="21.2" fill="#E00000" stroke="#000" stroke-width="1.2" clip-path="url(#cb)"/>
<circle cx="1383.8" cy="272.5" r="21.2" fill="#E00000" stroke="#000" stroke-width="1.2" clip-path="url(#cb)"/>
<circle cx="1390" cy="261.3" r="21.2" fill="#E00000" stroke="#000" stroke-width="1.2" clip-path="url(#cb)"/>
<circle cx="1395" cy="262.5" r="21.2" fill="#E00000" stroke="#000" stroke-width="1.2" clip-path="url(#cb)"/>
<circle cx="1432.5" cy="250" r="21.2" fill="#E00000" stroke="#000" stroke-width="1.2" clip-path="url(#cb)"/>
<circle cx="1436.3" cy="235" r="21.2" fill="#E00000" stroke="#000" stroke-width="1.2" clip-path="url(#cb)"/>
<circle cx="1447.5" cy="222.5" r="21.2" fill="#E00000" stroke="#000" stroke-width="1.2" clip-path="url(#cb)"/>
<circle cx="1481.3" cy="222.5" r="21.2" fill="#E00000" stroke="#000" stroke-width="1.2" clip-path="url(#cb)"/>
<circle cx="1488.8" cy="215" r="21.2" fill="#E00000" stroke="#000" stroke-width="1.2" clip-path="url(#cb)"/>
<circle cx="1510" cy="215" r="21.2" fill="#E00000" stroke="#000" stroke-width="1.2" clip-path="url(#cb)"/>
<circle cx="1537.5" cy="215" r="21.2" fill="#E00000" stroke="#000" stroke-width="1.2" clip-path="url(#cb)"/>
<circle cx="1538.8" cy="217.3" r="21.2" fill="#E00000" stroke="#000" stroke-width="1.2" clip-path="url(#cb)"/>
<circle cx="1529.3" cy="221.7" r="21.2" fill="#E00000" stroke="#000" stroke-width="1.2" clip-path="url(#cb)"/>
<circle cx="1527.5" cy="221.3" r="21.2" fill="#E00000" stroke="#000" stroke-width="1.2" clip-path="url(#cb)"/>
<circle cx="1535" cy="225" r="21.2" fill="#E00000" stroke="#000" stroke-width="1.2" clip-path="url(#cb)"/>
<circle cx="1586.3" cy="220" r="21.2" fill="#E00000" stroke="#000" stroke-width="1.2" clip-path="url(#cb)"/>
<circle cx="1628" cy="217.3" r="21.2" fill="#E00000" stroke="#000" stroke-width="1.2" clip-path="url(#cb)"/>
<circle cx="1627.3" cy="221.7" r="21.2" fill="#E00000" stroke="#000" stroke-width="1.2" clip-path="url(#cb)"/>
<circle cx="1691.5" cy="198" r="21.2" fill="#E00000" stroke="#000" stroke-width="1.2" clip-path="url(#cb)"/>
<circle cx="1675.5" cy="216" r="21.2" fill="#E00000" stroke="#000" stroke-width="1.2" clip-path="url(#cb)"/>
<circle cx="1684.4" cy="223.2" r="21.2" fill="#E00000" stroke="#000" stroke-width="1.2" clip-path="url(#cb)"/>
<circle cx="1681.5" cy="228.5" r="21.2" fill="#E00000" stroke="#000" stroke-width="1.2" clip-path="url(#cb)"/>
<circle cx="1733.4" cy="221" r="21.2" fill="#E00000" stroke="#000" stroke-width="1.2" clip-path="url(#cb)"/>
<circle cx="1772.9" cy="212.9" r="21.2" fill="#E00000" stroke="#000" stroke-width="1.2" clip-path="url(#cb)"/>
<circle cx="1829.1" cy="209.3" r="21.2" fill="#E00000" stroke="#000" stroke-width="1.2" clip-path="url(#cb)"/>
<circle cx="1893.9" cy="212.2" r="21.2" fill="#E00000" stroke="#000" stroke-width="1.2" clip-path="url(#cb)"/>
<circle cx="1873.4" cy="221" r="21.2" fill="#E00000" stroke="#000" stroke-width="1.2" clip-path="url(#cb)"/>
<circle cx="1874.4" cy="230.7" r="21.2" fill="#E00000" stroke="#000" stroke-width="1.2" clip-path="url(#cb)"/>
<circle cx="1876.3" cy="220" r="21.2" fill="#E00000" stroke="#000" stroke-width="1.2" clip-path="url(#cb)"/>
<circle cx="1962.2" cy="219" r="21.2" fill="#E00000" stroke="#000" stroke-width="1.2" clip-path="url(#cb)"/>
<circle cx="1973.9" cy="230.7" r="21.2" fill="#E00000" stroke="#000" stroke-width="1.2" clip-path="url(#cb)"/>
<circle cx="1976.8" cy="222.9" r="21.2" fill="#E00000" stroke="#000" stroke-width="1.2" clip-path="url(#cb)"/>
<polyline points="1268.7,438.4 1350,375 1460,290 1500,262 1560,230 1610,205 1650,185 1704.6,158 1728.3,150 1767,136 1845,112.5 1923,96 1999.3,84.4 2060,104" fill="none" stroke="#E00000" stroke-width="5" stroke-linejoin="round" stroke-dasharray="5 8.2" stroke-linecap="butt" clip-path="url(#cb)"/>
<polyline points="1252.9,700 1259.9,565.4 1267.8,511.1 1284.4,463.8 1292.3,455.9 1308,444.5 1346.6,420 1400,380 1460,330 1505,292.5 1560,255 1582.5,237.5 1610,225 1640,200 1665.4,183.7 1702,170.5 1751.7,205.6 1786.6,230.7 1868.5,263.9 1940.7,299" fill="none" stroke="#E00000" stroke-width="5" stroke-linejoin="round" stroke-dasharray="18.5 8" stroke-linecap="butt" clip-path="url(#cb)"/>
<polyline points="1260.8,561.9 1300.2,467.3 1340,435 1422.5,360 1460,327.5 1502.5,273.8 1543.9,242.2 1624.4,294.9 1704.9,321.2 1789,317.6" fill="none" stroke="#E00000" stroke-width="4.4" stroke-linejoin="round" stroke-linecap="butt" clip-path="url(#cb)"/>
<text x="1258.5" y="168" font-size="64.8" fill="#E00000" textLength="27.5" lengthAdjust="spacingAndGlyphs" font-weight="bold" font-family="'Liberation Serif', serif" style="font-kerning:none">r</text>
<text x="1290" y="180.3" font-size="86.4" fill="#E00000" textLength="26.3" lengthAdjust="spacingAndGlyphs" font-family="'Liberation Serif', serif" style="font-kerning:none">/</text>
<text x="1320.3" y="168" font-size="64.1" fill="#E00000" textLength="48.8" lengthAdjust="spacingAndGlyphs" font-weight="bold" font-family="'Liberation Serif', serif" style="font-kerning:none">R</text>
<rect x="1210.3" y="39.2" width="836.2" height="652.4" fill="none" stroke="#666" stroke-width="1.3"/>
<line x1="1220" y1="691.6" x2="1220" y2="679.6" stroke="#000" stroke-width="2.4" />
<line x1="1220" y1="39.2" x2="1220" y2="51.2" stroke="#000" stroke-width="2.4" />
<line x1="1317.2" y1="691.6" x2="1317.2" y2="679.6" stroke="#000" stroke-width="2.4" />
<line x1="1317.2" y1="39.2" x2="1317.2" y2="51.2" stroke="#000" stroke-width="2.4" />
<line x1="1414.3" y1="691.6" x2="1414.3" y2="679.6" stroke="#000" stroke-width="2.4" />
<line x1="1414.3" y1="39.2" x2="1414.3" y2="51.2" stroke="#000" stroke-width="2.4" />
<line x1="1511.5" y1="691.6" x2="1511.5" y2="679.6" stroke="#000" stroke-width="2.4" />
<line x1="1511.5" y1="39.2" x2="1511.5" y2="51.2" stroke="#000" stroke-width="2.4" />
<line x1="1608.6" y1="691.6" x2="1608.6" y2="679.6" stroke="#000" stroke-width="2.4" />
<line x1="1608.6" y1="39.2" x2="1608.6" y2="51.2" stroke="#000" stroke-width="2.4" />
<line x1="1705.8" y1="691.6" x2="1705.8" y2="679.6" stroke="#000" stroke-width="2.4" />
<line x1="1705.8" y1="39.2" x2="1705.8" y2="51.2" stroke="#000" stroke-width="2.4" />
<line x1="1803" y1="691.6" x2="1803" y2="679.6" stroke="#000" stroke-width="2.4" />
<line x1="1803" y1="39.2" x2="1803" y2="51.2" stroke="#000" stroke-width="2.4" />
<line x1="1900.1" y1="691.6" x2="1900.1" y2="679.6" stroke="#000" stroke-width="2.4" />
<line x1="1900.1" y1="39.2" x2="1900.1" y2="51.2" stroke="#000" stroke-width="2.4" />
<line x1="1997.3" y1="691.6" x2="1997.3" y2="679.6" stroke="#000" stroke-width="2.4" />
<line x1="1997.3" y1="39.2" x2="1997.3" y2="51.2" stroke="#000" stroke-width="2.4" />
<line x1="1268.6" y1="691.6" x2="1268.6" y2="682" stroke="#000" stroke-width="1.6" />
<line x1="1268.6" y1="39.2" x2="1268.6" y2="48.8" stroke="#000" stroke-width="1.6" />
<line x1="1365.7" y1="691.6" x2="1365.7" y2="682" stroke="#000" stroke-width="1.6" />
<line x1="1365.7" y1="39.2" x2="1365.7" y2="48.8" stroke="#000" stroke-width="1.6" />
<line x1="1462.9" y1="691.6" x2="1462.9" y2="682" stroke="#000" stroke-width="1.6" />
<line x1="1462.9" y1="39.2" x2="1462.9" y2="48.8" stroke="#000" stroke-width="1.6" />
<line x1="1560.1" y1="691.6" x2="1560.1" y2="682" stroke="#000" stroke-width="1.6" />
<line x1="1560.1" y1="39.2" x2="1560.1" y2="48.8" stroke="#000" stroke-width="1.6" />
<line x1="1657.2" y1="691.6" x2="1657.2" y2="682" stroke="#000" stroke-width="1.6" />
<line x1="1657.2" y1="39.2" x2="1657.2" y2="48.8" stroke="#000" stroke-width="1.6" />
<line x1="1754.4" y1="691.6" x2="1754.4" y2="682" stroke="#000" stroke-width="1.6" />
<line x1="1754.4" y1="39.2" x2="1754.4" y2="48.8" stroke="#000" stroke-width="1.6" />
<line x1="1851.5" y1="691.6" x2="1851.5" y2="682" stroke="#000" stroke-width="1.6" />
<line x1="1851.5" y1="39.2" x2="1851.5" y2="48.8" stroke="#000" stroke-width="1.6" />
<line x1="1948.7" y1="691.6" x2="1948.7" y2="682" stroke="#000" stroke-width="1.6" />
<line x1="1948.7" y1="39.2" x2="1948.7" y2="48.8" stroke="#000" stroke-width="1.6" />
<line x1="1210.3" y1="81.6" x2="1222.3" y2="81.6" stroke="#000" stroke-width="2.4" />
<line x1="2046.5" y1="81.6" x2="2034.5" y2="81.6" stroke="#000" stroke-width="2.4" />
<line x1="1210.3" y1="223.4" x2="1222.3" y2="223.4" stroke="#000" stroke-width="2.4" />
<line x1="2046.5" y1="223.4" x2="2034.5" y2="223.4" stroke="#000" stroke-width="2.4" />
<line x1="1210.3" y1="365.2" x2="1222.3" y2="365.2" stroke="#000" stroke-width="2.4" />
<line x1="2046.5" y1="365.2" x2="2034.5" y2="365.2" stroke="#000" stroke-width="2.4" />
<line x1="1210.3" y1="507" x2="1222.3" y2="507" stroke="#000" stroke-width="2.4" />
<line x1="2046.5" y1="507" x2="2034.5" y2="507" stroke="#000" stroke-width="2.4" />
<line x1="1210.3" y1="648.8" x2="1222.3" y2="648.8" stroke="#000" stroke-width="2.4" />
<line x1="2046.5" y1="648.8" x2="2034.5" y2="648.8" stroke="#000" stroke-width="2.4" />
<line x1="1210.3" y1="152.5" x2="1219.9" y2="152.5" stroke="#000" stroke-width="1.6" />
<line x1="2046.5" y1="152.5" x2="2036.9" y2="152.5" stroke="#000" stroke-width="1.6" />
<line x1="1210.3" y1="294.3" x2="1219.9" y2="294.3" stroke="#000" stroke-width="1.6" />
<line x1="2046.5" y1="294.3" x2="2036.9" y2="294.3" stroke="#000" stroke-width="1.6" />
<line x1="1210.3" y1="436.1" x2="1219.9" y2="436.1" stroke="#000" stroke-width="1.6" />
<line x1="2046.5" y1="436.1" x2="2036.9" y2="436.1" stroke="#000" stroke-width="1.6" />
<line x1="1210.3" y1="577.9" x2="1219.9" y2="577.9" stroke="#000" stroke-width="1.6" />
<line x1="2046.5" y1="577.9" x2="2036.9" y2="577.9" stroke="#000" stroke-width="1.6" />
<text x="1157.6" y="93.8" font-size="26.1" fill="#000" textLength="21.2" lengthAdjust="spacingAndGlyphs" font-family="'Liberation Serif', serif" style="font-kerning:none">−</text>
<text x="1179.1" y="91.5" font-size="28.7" fill="#000" textLength="28.9" lengthAdjust="spacingAndGlyphs" font-family="'Liberation Serif', serif" style="font-kerning:none">19</text>
<text x="1157.6" y="235.6" font-size="26.1" fill="#000" textLength="21.2" lengthAdjust="spacingAndGlyphs" font-family="'Liberation Serif', serif" style="font-kerning:none">−</text>
<text x="1179.1" y="233.3" font-size="28.6" fill="#000" textLength="28.8" lengthAdjust="spacingAndGlyphs" font-family="'Liberation Serif', serif" style="font-kerning:none">18</text>
<text x="1157.6" y="377.4" font-size="26.1" fill="#000" textLength="21.2" lengthAdjust="spacingAndGlyphs" font-family="'Liberation Serif', serif" style="font-kerning:none">−</text>
<text x="1179.1" y="375.4" font-size="29.2" fill="#000" textLength="28.5" lengthAdjust="spacingAndGlyphs" font-family="'Liberation Serif', serif" style="font-kerning:none">17</text>
<text x="1157.6" y="519.2" font-size="26.1" fill="#000" textLength="21.2" lengthAdjust="spacingAndGlyphs" font-family="'Liberation Serif', serif" style="font-kerning:none">−</text>
<text x="1179.1" y="516.9" font-size="28.7" fill="#000" textLength="28.6" lengthAdjust="spacingAndGlyphs" font-family="'Liberation Serif', serif" style="font-kerning:none">16</text>
<text x="1157.6" y="661" font-size="26.1" fill="#000" textLength="21.2" lengthAdjust="spacingAndGlyphs" font-family="'Liberation Serif', serif" style="font-kerning:none">−</text>
<text x="1179.1" y="658.7" font-size="28.8" fill="#000" textLength="28.9" lengthAdjust="spacingAndGlyphs" font-family="'Liberation Serif', serif" style="font-kerning:none">15</text>
<text x="1212.5" y="714.3" font-size="28.3" fill="#000" textLength="15" lengthAdjust="spacingAndGlyphs" font-family="'Liberation Serif', serif" style="font-kerning:none">0</text>
<text x="1309.4" y="714.6" font-size="28.8" fill="#000" textLength="15.8" lengthAdjust="spacingAndGlyphs" font-family="'Liberation Serif', serif" style="font-kerning:none">2</text>
<text x="1407.4" y="714.6" font-size="29" fill="#000" textLength="13.7" lengthAdjust="spacingAndGlyphs" font-family="'Liberation Serif', serif" style="font-kerning:none">4</text>
<text x="1503.9" y="714.3" font-size="28.4" fill="#000" textLength="14.9" lengthAdjust="spacingAndGlyphs" font-family="'Liberation Serif', serif" style="font-kerning:none">6</text>
<text x="1601.1" y="714.3" font-size="28.3" fill="#000" textLength="15" lengthAdjust="spacingAndGlyphs" font-family="'Liberation Serif', serif" style="font-kerning:none">8</text>
<text x="1690.4" y="714.3" font-size="28.3" fill="#000" textLength="29.3" lengthAdjust="spacingAndGlyphs" font-family="'Liberation Serif', serif" style="font-kerning:none">10</text>
<text x="1787.5" y="714.6" font-size="28.8" fill="#000" textLength="29.9" lengthAdjust="spacingAndGlyphs" font-family="'Liberation Serif', serif" style="font-kerning:none">12</text>
<text x="1884.8" y="714.6" font-size="28.9" fill="#000" textLength="28.6" lengthAdjust="spacingAndGlyphs" font-family="'Liberation Serif', serif" style="font-kerning:none">14</text>
<text x="1981.9" y="714.3" font-size="28.4" fill="#000" textLength="29" lengthAdjust="spacingAndGlyphs" font-family="'Liberation Serif', serif" style="font-kerning:none">16</text>
<text x="1390.1" y="742.8" font-size="27" fill="#000" textLength="475.4" lengthAdjust="spacingAndGlyphs" font-family="'Liberation Serif', serif" style="font-kerning:none">Rest-frame Days Relative to First Light</text>
<text x="1606.5" y="781" font-size="31" fill="#000" textLength="41" lengthAdjust="spacingAndGlyphs" font-family="'Liberation Serif', serif" style="font-kerning:none">(b)</text>
<text transform="translate(1147.7 510.9) rotate(-90)" x="0" y="0" font-size="35.6" fill="#000" textLength="292.6" lengthAdjust="spacingAndGlyphs" font-family="'Liberation Serif', serif" style="font-kerning:none">Absolute Magnitude</text>
<path d="M1215,935 L1226.3,932.5 L1227.5,897.5 L1230,891.3 L1233.8,887.5 L1236,884 L1240.6,877.5 L1243.8,868.8 L1245,849.5 L1246.9,895 L1249.4,898.1 L1270,892 L1287.5,886.3 L1297.5,888.2 L1302.3,897.8 L1303,911.6 L1303.7,944.6 L1311.3,957 L1316.8,972.1 L1317.5,984.5 L1318.9,995.5 L1321.6,1060 L1321.5,1077.1 L1335.1,1086.8 C1345.1,1089.8 1376.7,1099.2 1395,1105 C1413.3,1110.8 1424.2,1114.8 1445,1121.3 C1465.8,1127.8 1501.9,1138.8 1520,1143.8 C1538.1,1148.8 1536.7,1146.1 1553.7,1151.2 C1570.7,1156.3 1605.8,1169.1 1622,1174.6 C1638.2,1180.1 1639.5,1180.7 1651.2,1184.4 C1663,1188.1 1681.4,1193.3 1692.5,1196.8 C1703.6,1200.3 1710.9,1201.4 1718,1205.3 C1725.1,1209.2 1729.7,1213.1 1735,1220.2 C1740.3,1227.3 1742.9,1227.6 1750,1247.8 C1757.1,1268 1770.2,1317.7 1777.6,1341.4 C1785,1365.2 1790.3,1380.7 1794.6,1390.3 C1798.8,1399.9 1788.2,1391.7 1803.1,1398.8 C1818,1405.9 1863.4,1424.3 1883.9,1432.8 C1904.5,1441.3 1913.1,1445.4 1926.4,1449.8 C1939.7,1454.2 1957.5,1457.8 1963.7,1459.4" fill="none" stroke="#EED8A6" stroke-width="3" stroke-linejoin="round" stroke-linecap="butt" clip-path="url(#cc)"/>
<path d="M1215,993.1 L1225,991.9 L1256.3,995.6 L1268.8,994.4 L1273.1,987.5 L1276.3,957.5 L1280,957.5 L1279.4,930 L1281.3,915 L1282.5,902.5 L1286.9,898.8 L1287.5,890 L1290,883.8 L1292.5,849.4 L1293.8,883.8 L1293.1,902.5 L1296.3,907.5 L1302.5,905.6 L1315,903.1 L1325,904.4 L1330,908.1 L1335,917.5 L1335,953.8 L1340,960 L1345,970 L1348.8,972.5 L1351.9,1015 L1352.7,1045.9 C1354.2,1048.1 1357,1053.3 1362,1059 C1367,1064.7 1372.8,1073.4 1382.5,1080 C1392.2,1086.6 1407.5,1093.2 1420,1098.8 C1432.5,1104.4 1440.8,1107.3 1457.5,1113.8 C1474.2,1120.2 1504,1131.9 1520,1137.5 C1536,1143.1 1538.3,1142.6 1553.7,1147.3 C1569.1,1152 1600.5,1160.1 1612.2,1165.9 C1623.9,1171.7 1618.7,1171.5 1623.9,1182 C1629.1,1192.5 1635.6,1206.4 1643.4,1228.8 C1651.2,1251.2 1664.2,1294.2 1670.7,1316.6 C1677.2,1339 1677.5,1354.1 1682.4,1363.4 C1687.3,1372.7 1693.7,1369.7 1700,1372.2 C1706.3,1374.7 1707.3,1374.2 1720.2,1378.6 C1733.1,1383 1750.3,1389.4 1777.6,1398.8 C1804.9,1408.2 1852.9,1424.7 1883.9,1435 C1914.9,1445.3 1950.4,1456.2 1963.7,1460.5" fill="none" stroke="#9DB1DA" stroke-width="3" stroke-linejoin="round" stroke-linecap="butt" clip-path="url(#cc)"/>
<path d="M1215,993.1 L1225,991.9 L1256.3,995.6 L1268.8,994.4 L1273.1,987.5 L1276.3,957.5 L1280,957.5 L1279.4,930 L1281.3,915 L1282.5,902.5 L1286.9,898.8 L1287.5,890 L1290,883.8 L1292.5,849.4 L1293.8,883.8 L1293.1,902.5 L1296.3,907.5 L1302.5,905.6 L1315,903.1 L1325,904.4 L1330,908.1 L1335,917.5 L1335,953.8 L1340,960 L1345,970 L1348.8,972.5 L1351.9,1015 L1352.7,1045.9 C1354.2,1048.1 1357,1053.3 1362,1059 C1367,1064.7 1372.8,1073.4 1382.5,1080 C1392.2,1086.6 1407.5,1093.2 1420,1098.8 C1432.5,1104.4 1440.8,1107.3 1457.5,1113.8 C1474.2,1120.2 1504,1131.9 1520,1137.5 C1536,1143.1 1538.3,1142.6 1553.7,1147.3 C1569.1,1152 1601.8,1160.7 1612.2,1165.9 C1622.6,1171.1 1612.8,1172.2 1616.1,1178.5 C1619.3,1184.8 1624.2,1186.2 1631.7,1203.4 C1639.2,1220.6 1652.9,1256.8 1661,1281.5 C1669.1,1306.2 1675.6,1337.7 1680.5,1351.7 C1685.4,1365.7 1687,1361.8 1690.2,1365.4 C1693.5,1369 1695,1370.9 1700,1373.2 C1705,1375.5 1707.3,1374.7 1720.2,1379 C1733.1,1383.3 1750.3,1389.5 1777.6,1398.8 C1804.9,1408.1 1852.9,1424.7 1883.9,1435 C1914.9,1445.3 1950.4,1456.2 1963.7,1460.5" fill="none" stroke="#C4A077" stroke-width="3" stroke-linejoin="round" stroke-linecap="butt" clip-path="url(#cc)"/>
<path d="M1215,935 L1226.3,932.5 L1227.5,897.5 L1230,891.3 L1233.8,887.5 L1236,884 L1240.6,877.5 L1243.8,868.8 L1245,849.5 L1246.9,895 L1249.4,898.1 L1270,892 L1287.5,886.3 L1298.9,889.5 L1304.4,897.8 L1306.5,911.6 L1307.2,944.6 L1312,955 L1316.8,963.9 L1320.9,977.6 L1321.3,996.3 C1321.6,1003.6 1322.7,1026 1323.2,1040 C1323.7,1054 1323.9,1067.1 1324.4,1080 C1324.9,1092.9 1325.4,1105 1326.3,1117.5 C1327.2,1130 1328.3,1146 1330,1155 C1331.7,1164 1333.8,1165.9 1336.3,1171.3 C1338.8,1176.7 1341.5,1182.3 1345,1187.5 C1348.5,1192.7 1352.3,1197.3 1357.5,1202.5 C1362.7,1207.7 1370,1214 1376.3,1218.8 C1382.5,1223.6 1387.7,1226.5 1395,1231.3 C1402.3,1236.1 1411.7,1242.3 1420,1247.5 C1428.3,1252.7 1435.4,1257.3 1445,1262.5 C1454.6,1267.7 1469.2,1274.7 1477.5,1278.8 C1485.8,1282.9 1484,1281.6 1495.1,1287.3 C1506.2,1293 1527.6,1304.2 1543.9,1312.7 C1560.2,1321.2 1578.1,1331.2 1592.7,1338 C1607.3,1344.8 1615.1,1348 1631.7,1353.7 C1648.3,1359.4 1668.2,1364.7 1692.5,1372.2 C1716.8,1379.7 1745.7,1388.3 1777.6,1398.8 C1809.5,1409.3 1852.9,1424.7 1883.9,1435 C1914.9,1445.3 1950.4,1456.2 1963.7,1460.5" fill="none" stroke="#E6726A" stroke-width="3" stroke-linejoin="round" stroke-dasharray="11.5 4.8" stroke-linecap="butt" clip-path="url(#cc)"/>
<path d="M1215,935 L1226.3,932.5 L1227.5,897.5 L1230,891.3 L1233.8,887.5 L1236,884 L1240.6,877.5 L1243.8,868.8 L1245,849.5 L1246.9,895 L1249.4,898.1 L1270,892 L1287.5,886.3 L1298.9,889.5 L1304.4,897.8 L1306.5,911.6 L1307.2,944.6 L1312,955 L1316.8,963.9 L1320.9,977.6 L1321.3,996.3 C1321.5,1003.6 1322.4,1026 1322.8,1040 C1323.2,1054 1323.2,1069.2 1323.8,1080 C1324.4,1090.8 1325,1097.9 1326.3,1105 C1327.5,1112.1 1329,1116.7 1331.3,1122.5 C1333.6,1128.3 1336.7,1134.4 1340,1140 C1343.3,1145.6 1346.3,1151.1 1351.3,1156.3 C1356.3,1161.5 1362.7,1166.1 1370,1171.3 C1377.3,1176.5 1386.7,1182.3 1395,1187.5 C1403.3,1192.7 1411.7,1197.7 1420,1202.5 C1428.3,1207.3 1436.7,1211.5 1445,1216.3 C1453.3,1221.1 1461.7,1226.3 1470,1231.3 C1478.3,1236.3 1486.7,1241.5 1495,1246.3 C1503.3,1251.1 1503.7,1251.9 1520,1260 C1536.3,1268.1 1572.5,1285.2 1592.7,1295.1 C1613,1305 1621.3,1309.7 1641.5,1319.5 C1661.7,1329.3 1687.6,1341.6 1713.8,1354.1 C1740,1366.6 1770.6,1381.5 1798.9,1394.6 C1827.2,1407.7 1862.7,1423.6 1883.9,1432.8 C1905.2,1442 1913.1,1445.4 1926.4,1449.8 C1939.7,1454.2 1957.5,1457.8 1963.7,1459.4" fill="none" stroke="#BB772F" stroke-width="3" stroke-linejoin="round" stroke-dasharray="11.5 4.8" stroke-linecap="butt" clip-path="url(#cc)"/>
<path d="M1215,935 L1226.3,932.5 L1227.5,897.5 L1230,891.3 L1233.8,887.5 L1236,884 L1240.6,877.5 L1243.8,868.8 L1245,849.5 L1246.9,895 L1249.4,898.1 L1270,892 L1287.5,886.3 L1298.9,889.5 L1304.4,897.8 L1306.5,911.6 L1307.2,944.6 L1312,955 L1316.8,963.9 L1320.9,977.6 L1321.3,996.3 C1321.7,1003.6 1322.8,1028.2 1323.5,1040 C1324.2,1051.8 1323.9,1059.6 1325.4,1067.3 C1326.9,1075 1328.2,1078.5 1332.5,1086.3 C1336.8,1094 1345,1106.1 1351.3,1113.8 C1357.5,1121.5 1362.7,1126.5 1370,1132.5 C1377.3,1138.5 1386.7,1144.8 1395,1150 C1403.3,1155.2 1411.7,1159.2 1420,1163.8 C1428.3,1168.4 1436.7,1172.7 1445,1177.5 C1453.3,1182.3 1461.7,1187.9 1470,1192.5 C1478.3,1197.1 1487.1,1201.3 1495,1205 C1502.9,1208.7 1511,1211.4 1517.5,1214.4 C1524,1217.4 1518.3,1215 1534.1,1222.9 C1549.9,1230.8 1591,1251.6 1612.2,1262 C1633.4,1272.4 1640.5,1275.8 1661,1285.5 C1681.5,1295.2 1708.5,1307.5 1735,1320 C1761.5,1332.5 1791.7,1347 1820.1,1360.5 C1848.5,1374 1880.7,1388.8 1905.2,1401 C1929.7,1413.2 1956.6,1428.4 1966.9,1433.9" fill="none" stroke="#6A7000" stroke-width="3" stroke-linejoin="round" stroke-dasharray="11.5 4.8" stroke-linecap="butt" clip-path="url(#cc)"/>
<path d="M1215,935 L1226.3,932.5 L1227.5,897.5 L1230,891.3 L1233.8,887.5 L1236,884 L1240.6,877.5 L1243.8,868.8 L1245,849.5 L1246.9,895 L1249.4,898.1 L1270,892 L1287.5,886.3 L1298.9,889.5 L1304.4,897.8 L1306.5,911.6 L1307.2,944.6 L1312,955 L1316.8,963.9 L1320.9,977.6 L1321.3,996.3 C1321.8,1000.2 1322.7,1012.7 1324,1020 C1325.3,1027.3 1326.6,1033.7 1329.3,1040 C1332,1046.3 1334.2,1051.3 1340,1058 C1345.8,1064.7 1356.7,1074 1363.8,1080 C1370.9,1086 1375.2,1089 1382.5,1094 C1389.8,1099 1399.2,1104.9 1407.5,1110 C1415.8,1115.1 1424.2,1119.7 1432.5,1124.5 C1440.8,1129.3 1449.2,1134.3 1457.5,1139 C1465.8,1143.7 1472.1,1146.9 1482.5,1152.5 C1492.9,1158.1 1501.6,1163.9 1520,1172.5 C1538.4,1181.1 1574.1,1195.2 1592.7,1204 C1611.3,1212.8 1613.8,1215.8 1631.7,1225 C1649.6,1234.2 1672.1,1244.6 1700,1259 C1727.9,1273.4 1768.2,1296.1 1798.9,1311.6 C1829.6,1327.1 1855.9,1338.9 1883.9,1352 C1911.9,1365.1 1953.1,1383.9 1966.9,1390.3" fill="none" stroke="#55F000" stroke-width="3" stroke-linejoin="round" stroke-dasharray="11.5 4.8" stroke-linecap="butt" clip-path="url(#cc)"/>
<path d="M1215,935 L1226.3,932.5 L1227.5,897.5 L1230,891.3 L1233.8,887.5 L1236,884 L1240.6,877.5 L1243.8,868.8 L1245,849.5 L1246.9,895 L1249.4,898.1 L1270,892 L1287.5,886.3 L1298.9,889.5 L1304.4,897.8 L1306.5,911.6 L1307.2,944.6 L1312,955 L1316.8,963.9 L1320.9,977.6 L1321.3,996.3 C1325.9,1001 1336.1,1014.2 1348.8,1024.4 C1361.5,1034.6 1384.7,1048.7 1397.6,1057.6 C1410.5,1066.5 1416.3,1071.5 1426.3,1078 C1436.3,1084.5 1446,1090.5 1457.5,1096.8 C1469,1103.1 1484.7,1110.9 1495.1,1116.1 C1505.5,1121.3 1503.7,1120.2 1520,1128 C1536.3,1135.8 1571,1151.8 1592.7,1162.9 C1614.4,1174 1626.3,1182.7 1650,1194.7 C1673.7,1206.7 1706.7,1222 1735,1235.1 C1763.3,1248.2 1781.1,1254.5 1820.1,1273.3 C1859.1,1292.1 1944.2,1335.4 1969,1347.8" fill="none" stroke="#80C2EA" stroke-width="3" stroke-linejoin="round" stroke-dasharray="11.5 4.8" stroke-linecap="butt" clip-path="url(#cc)"/>
<path d="M1215,935 L1226.3,932.5 L1227.5,897.5 L1230,891.3 L1233.8,887.5 L1236,884 L1240.6,877.5 L1243.8,868.8 L1245,849.5 L1246.9,895 L1249.4,898.1 L1270,892 L1287.5,886.3 L1298.9,889.5 L1304.4,897.8 L1306.5,911.6 L1307.2,944.6 L1312,955 L1316.8,963.9 L1320.9,977.6 L1321.3,996.3 C1334.4,1002.2 1374.3,1020.3 1400,1032 C1425.7,1043.7 1453.2,1055.8 1475.6,1066.3 C1497.9,1076.8 1505,1080.7 1534.1,1095 C1563.2,1109.3 1623.6,1139.4 1650,1152.1 C1676.4,1164.8 1671.2,1161.1 1692.5,1171.3 C1713.8,1181.5 1749.2,1199.5 1777.6,1213 C1806,1226.5 1830.8,1236.9 1862.7,1252.1 C1894.6,1267.3 1951.3,1295.5 1969,1304.2" fill="none" stroke="#5C6B80" stroke-width="3" stroke-linejoin="round" stroke-dasharray="11.5 4.8" stroke-linecap="butt" clip-path="url(#cc)"/>
<path d="M1215,993.1 L1225,991.9 L1256.3,995.6 L1268.8,994.4 L1273.1,987.5 L1276.3,957.5 L1280,957.5 L1279.4,930 L1281.3,915 L1282.5,902.5 L1286.9,898.8 L1287.5,890 L1290,883.8 L1292.5,849.4 L1293.8,883.8 L1293.1,902.5 L1296.3,907.5 L1302.5,905.6 L1315,903.1 L1325,904.4 L1330,908.1 L1335,917.5 L1335,953.8 L1340,960 L1345,970 L1348.8,972.5 L1351.9,1015 L1352.7,1045.9 C1354.2,1048.1 1357,1053.3 1362,1059 C1367,1064.7 1372.8,1073.4 1382.5,1080 C1392.2,1086.6 1407.5,1093.2 1420,1098.8 C1432.5,1104.4 1440.8,1107.3 1457.5,1113.8 C1474.2,1120.2 1504,1131.9 1520,1137.5 C1536,1143.1 1538.3,1142.6 1553.7,1147.3 C1569.1,1152 1598.7,1161.5 1612.2,1165.9 C1625.8,1170.3 1628.8,1171.1 1635,1173.5 C1641.2,1175.9 1644.7,1177.3 1649.3,1180.5 C1653.9,1183.7 1659.1,1187.7 1662.8,1192.5 C1666.5,1197.3 1667,1197.5 1671.3,1209.5 C1675.5,1221.5 1681.9,1240.7 1688.3,1264.8 C1694.7,1288.9 1703.8,1335.7 1709.5,1354.1 C1715.2,1372.5 1718,1371 1722.3,1375.4 C1726.6,1379.8 1707.1,1371.5 1735.1,1380.7 C1763.1,1389.9 1864.4,1422.4 1890.3,1430.7" fill="none" stroke="#E00000" stroke-width="5.6" stroke-linejoin="round" stroke-linecap="butt" clip-path="url(#cc)"/>
<line x1="1630" y1="843.1" x2="1630" y2="1486.3" stroke="#000" stroke-width="3.6" stroke-dasharray="3.6 4.2"/>
<line x1="1662.5" y1="843.1" x2="1662.5" y2="1486.3" stroke="#000" stroke-width="3.6" stroke-dasharray="3.6 4.2"/>
<line x1="1690.4" y1="843.1" x2="1690.4" y2="1486.3" stroke="#000" stroke-width="3.6" stroke-dasharray="3.6 4.2"/>
<polygon points="1628.5,1016.7 1663.7,1016.7 1663.7,1005.4 1684.5,1026.9 1663.7,1048.4 1663.7,1037.1 1628.5,1037.1" fill="#000"/>
<polygon points="1661.5,1079.3 1703.2,1079.3 1703.2,1068 1726.2,1089.5 1703.2,1111 1703.2,1099.7 1661.5,1099.7" fill="#000"/>
<polygon points="1690,1133.3 1729.5,1133.3 1729.5,1122 1750.8,1143.5 1729.5,1165 1729.5,1153.7 1690,1153.7" fill="#000"/>
<text x="1789.7" y="1099.1" font-size="38.4" fill="#000" textLength="139.5" lengthAdjust="spacingAndGlyphs" font-family="'Liberation Serif', serif" style="font-kerning:none">SN Shock</text>
<text x="1778.9" y="1127.8" font-size="27" font-family="'Liberation Serif', serif" textLength="242.5" lengthAdjust="spacingAndGlyphs"><tspan font-style="italic">δt</tspan> = 6.4 − 10.6 days</text>
<rect x="1699" y="851.5" width="335" height="172.6" rx="5" ry="5" fill="#fff" fill-opacity="0.85" stroke="#d5d5d5" stroke-width="1.3"/>
<line x1="1706" y1="868.9" x2="1757.4" y2="868.9" stroke="#9DB1DA" stroke-width="3" />
<text x="1774" y="877.1" font-size="23.1" fill="#000" textLength="46.8" lengthAdjust="spacingAndGlyphs" font-family="'Liberation Serif', serif" style="font-kerning:none">r1w6</text>
<line x1="1706" y1="901.8" x2="1757.4" y2="901.8" stroke="#C4A077" stroke-width="3" />
<text x="1774" y="910" font-size="23.1" fill="#000" textLength="57.9" lengthAdjust="spacingAndGlyphs" font-family="'Liberation Serif', serif" style="font-kerning:none">r1w6a</text>
<line x1="1706" y1="935.4" x2="1757.4" y2="935.4" stroke="#E00000" stroke-width="5.6" />
<text x="1774" y="943.6" font-size="22" fill="#000" textLength="58.4" lengthAdjust="spacingAndGlyphs" font-family="'Liberation Serif', serif" style="font-kerning:none">r1w6b</text>
<line x1="1706" y1="968.3" x2="1757.4" y2="968.3" stroke="#EED8A6" stroke-width="3" />
<text x="1774.1" y="976.5" font-size="23.1" fill="#000" textLength="56" lengthAdjust="spacingAndGlyphs" font-family="'Liberation Serif', serif" style="font-kerning:none">r1w6c</text>
<line x1="1706" y1="1001.9" x2="1757.4" y2="1001.9" stroke="#E6726A" stroke-width="3" stroke-dasharray="11.5 4.8"/>
<text x="1774" y="1010.1" font-size="23.1" fill="#000" textLength="68.3" lengthAdjust="spacingAndGlyphs" font-family="'Liberation Serif', serif" style="font-kerning:none">m1em5</text>
<line x1="1889.7" y1="868.9" x2="1938.7" y2="868.9" stroke="#BB772F" stroke-width="3" stroke-dasharray="11.5 4.8"/>
<text x="1956.2" y="877.1" font-size="23.1" fill="#000" textLength="68.8" lengthAdjust="spacingAndGlyphs" font-family="'Liberation Serif', serif" style="font-kerning:none">m1em4</text>
<line x1="1889.7" y1="901.8" x2="1938.7" y2="901.8" stroke="#6A7000" stroke-width="3" stroke-dasharray="11.5 4.8"/>
<text x="1956.2" y="910" font-size="23.1" fill="#000" textLength="69.4" lengthAdjust="spacingAndGlyphs" font-family="'Liberation Serif', serif" style="font-kerning:none">m1em3</text>
<line x1="1889.7" y1="935.4" x2="1938.7" y2="935.4" stroke="#55F000" stroke-width="3" stroke-dasharray="11.5 4.8"/>
<text x="1956.2" y="943.6" font-size="23.1" fill="#000" textLength="69.8" lengthAdjust="spacingAndGlyphs" font-family="'Liberation Serif', serif" style="font-kerning:none">m1em2</text>
<line x1="1889.7" y1="968.3" x2="1938.7" y2="968.3" stroke="#80C2EA" stroke-width="3" stroke-dasharray="11.5 4.8"/>
<text x="1956.2" y="976.5" font-size="23.1" fill="#000" textLength="68.3" lengthAdjust="spacingAndGlyphs" font-family="'Liberation Serif', serif" style="font-kerning:none">m1em1</text>
<line x1="1889.7" y1="1001.9" x2="1938.7" y2="1001.9" stroke="#5C6B80" stroke-width="3" stroke-dasharray="11.5 4.8"/>
<text x="1956.2" y="1010.1" font-size="23" fill="#000" textLength="69.4" lengthAdjust="spacingAndGlyphs" font-family="'Liberation Serif', serif" style="font-kerning:none">m1em0</text>
<rect x="1215.6" y="839.1" width="831.1" height="647.2" fill="none" stroke="#666" stroke-width="1.3"/>
<line x1="1443.9" y1="1486.3" x2="1443.9" y2="1474.6" stroke="#000" stroke-width="2.4" />
<line x1="1443.9" y1="839.1" x2="1443.9" y2="850.8" stroke="#000" stroke-width="2.4" />
<line x1="1720.7" y1="1486.3" x2="1720.7" y2="1474.6" stroke="#000" stroke-width="2.4" />
<line x1="1720.7" y1="839.1" x2="1720.7" y2="850.8" stroke="#000" stroke-width="2.4" />
<line x1="1997.5" y1="1486.3" x2="1997.5" y2="1474.6" stroke="#000" stroke-width="2.4" />
<line x1="1997.5" y1="839.1" x2="1997.5" y2="850.8" stroke="#000" stroke-width="2.4" />
<line x1="1250.4" y1="1486.3" x2="1250.4" y2="1477.5" stroke="#000" stroke-width="1.6" />
<line x1="1250.4" y1="839.1" x2="1250.4" y2="847.9" stroke="#000" stroke-width="1.6" />
<line x1="1299.2" y1="1486.3" x2="1299.2" y2="1477.5" stroke="#000" stroke-width="1.6" />
<line x1="1299.2" y1="839.1" x2="1299.2" y2="847.9" stroke="#000" stroke-width="1.6" />
<line x1="1333.8" y1="1486.3" x2="1333.8" y2="1477.5" stroke="#000" stroke-width="1.6" />
<line x1="1333.8" y1="839.1" x2="1333.8" y2="847.9" stroke="#000" stroke-width="1.6" />
<line x1="1360.6" y1="1486.3" x2="1360.6" y2="1477.5" stroke="#000" stroke-width="1.6" />
<line x1="1360.6" y1="839.1" x2="1360.6" y2="847.9" stroke="#000" stroke-width="1.6" />
<line x1="1382.5" y1="1486.3" x2="1382.5" y2="1477.5" stroke="#000" stroke-width="1.6" />
<line x1="1382.5" y1="839.1" x2="1382.5" y2="847.9" stroke="#000" stroke-width="1.6" />
<line x1="1401" y1="1486.3" x2="1401" y2="1477.5" stroke="#000" stroke-width="1.6" />
<line x1="1401" y1="839.1" x2="1401" y2="847.9" stroke="#000" stroke-width="1.6" />
<line x1="1417.1" y1="1486.3" x2="1417.1" y2="1477.5" stroke="#000" stroke-width="1.6" />
<line x1="1417.1" y1="839.1" x2="1417.1" y2="847.9" stroke="#000" stroke-width="1.6" />
<line x1="1431.2" y1="1486.3" x2="1431.2" y2="1477.5" stroke="#000" stroke-width="1.6" />
<line x1="1431.2" y1="839.1" x2="1431.2" y2="847.9" stroke="#000" stroke-width="1.6" />
<line x1="1527.2" y1="1486.3" x2="1527.2" y2="1477.5" stroke="#000" stroke-width="1.6" />
<line x1="1527.2" y1="839.1" x2="1527.2" y2="847.9" stroke="#000" stroke-width="1.6" />
<line x1="1576" y1="1486.3" x2="1576" y2="1477.5" stroke="#000" stroke-width="1.6" />
<line x1="1576" y1="839.1" x2="1576" y2="847.9" stroke="#000" stroke-width="1.6" />
<line x1="1610.6" y1="1486.3" x2="1610.6" y2="1477.5" stroke="#000" stroke-width="1.6" />
<line x1="1610.6" y1="839.1" x2="1610.6" y2="847.9" stroke="#000" stroke-width="1.6" />
<line x1="1637.4" y1="1486.3" x2="1637.4" y2="1477.5" stroke="#000" stroke-width="1.6" />
<line x1="1637.4" y1="839.1" x2="1637.4" y2="847.9" stroke="#000" stroke-width="1.6" />
<line x1="1659.3" y1="1486.3" x2="1659.3" y2="1477.5" stroke="#000" stroke-width="1.6" />
<line x1="1659.3" y1="839.1" x2="1659.3" y2="847.9" stroke="#000" stroke-width="1.6" />
<line x1="1677.8" y1="1486.3" x2="1677.8" y2="1477.5" stroke="#000" stroke-width="1.6" />
<line x1="1677.8" y1="839.1" x2="1677.8" y2="847.9" stroke="#000" stroke-width="1.6" />
<line x1="1693.9" y1="1486.3" x2="1693.9" y2="1477.5" stroke="#000" stroke-width="1.6" />
<line x1="1693.9" y1="839.1" x2="1693.9" y2="847.9" stroke="#000" stroke-width="1.6" />
<line x1="1708" y1="1486.3" x2="1708" y2="1477.5" stroke="#000" stroke-width="1.6" />
<line x1="1708" y1="839.1" x2="1708" y2="847.9" stroke="#000" stroke-width="1.6" />
<line x1="1804" y1="1486.3" x2="1804" y2="1477.5" stroke="#000" stroke-width="1.6" />
<line x1="1804" y1="839.1" x2="1804" y2="847.9" stroke="#000" stroke-width="1.6" />
<line x1="1852.8" y1="1486.3" x2="1852.8" y2="1477.5" stroke="#000" stroke-width="1.6" />
<line x1="1852.8" y1="839.1" x2="1852.8" y2="847.9" stroke="#000" stroke-width="1.6" />
<line x1="1887.4" y1="1486.3" x2="1887.4" y2="1477.5" stroke="#000" stroke-width="1.6" />
<line x1="1887.4" y1="839.1" x2="1887.4" y2="847.9" stroke="#000" stroke-width="1.6" />
<line x1="1914.2" y1="1486.3" x2="1914.2" y2="1477.5" stroke="#000" stroke-width="1.6" />
<line x1="1914.2" y1="839.1" x2="1914.2" y2="847.9" stroke="#000" stroke-width="1.6" />
<line x1="1936.1" y1="1486.3" x2="1936.1" y2="1477.5" stroke="#000" stroke-width="1.6" />
<line x1="1936.1" y1="839.1" x2="1936.1" y2="847.9" stroke="#000" stroke-width="1.6" />
<line x1="1954.6" y1="1486.3" x2="1954.6" y2="1477.5" stroke="#000" stroke-width="1.6" />
<line x1="1954.6" y1="839.1" x2="1954.6" y2="847.9" stroke="#000" stroke-width="1.6" />
<line x1="1970.7" y1="1486.3" x2="1970.7" y2="1477.5" stroke="#000" stroke-width="1.6" />
<line x1="1970.7" y1="839.1" x2="1970.7" y2="847.9" stroke="#000" stroke-width="1.6" />
<line x1="1984.8" y1="1486.3" x2="1984.8" y2="1477.5" stroke="#000" stroke-width="1.6" />
<line x1="1984.8" y1="839.1" x2="1984.8" y2="847.9" stroke="#000" stroke-width="1.6" />
<line x1="1215.6" y1="860.6" x2="1227.3" y2="860.6" stroke="#000" stroke-width="2.4" />
<line x1="2046.7" y1="860.6" x2="2035" y2="860.6" stroke="#000" stroke-width="2.4" />
<line x1="1215.6" y1="946.8" x2="1227.3" y2="946.8" stroke="#000" stroke-width="2.4" />
<line x1="2046.7" y1="946.8" x2="2035" y2="946.8" stroke="#000" stroke-width="2.4" />
<line x1="1215.6" y1="1033" x2="1227.3" y2="1033" stroke="#000" stroke-width="2.4" />
<line x1="2046.7" y1="1033" x2="2035" y2="1033" stroke="#000" stroke-width="2.4" />
<line x1="1215.6" y1="1119.2" x2="1227.3" y2="1119.2" stroke="#000" stroke-width="2.4" />
<line x1="2046.7" y1="1119.2" x2="2035" y2="1119.2" stroke="#000" stroke-width="2.4" />
<line x1="1215.6" y1="1205.4" x2="1227.3" y2="1205.4" stroke="#000" stroke-width="2.4" />
<line x1="2046.7" y1="1205.4" x2="2035" y2="1205.4" stroke="#000" stroke-width="2.4" />
<line x1="1215.6" y1="1291.6" x2="1227.3" y2="1291.6" stroke="#000" stroke-width="2.4" />
<line x1="2046.7" y1="1291.6" x2="2035" y2="1291.6" stroke="#000" stroke-width="2.4" />
<line x1="1215.6" y1="1377.8" x2="1227.3" y2="1377.8" stroke="#000" stroke-width="2.4" />
<line x1="2046.7" y1="1377.8" x2="2035" y2="1377.8" stroke="#000" stroke-width="2.4" />
<line x1="1215.6" y1="1464" x2="1227.3" y2="1464" stroke="#000" stroke-width="2.4" />
<line x1="2046.7" y1="1464" x2="2035" y2="1464" stroke="#000" stroke-width="2.4" />
<line x1="1215.6" y1="903.7" x2="1224.4" y2="903.7" stroke="#000" stroke-width="1.6" />
<line x1="2046.7" y1="903.7" x2="2037.9" y2="903.7" stroke="#000" stroke-width="1.6" />
<line x1="1215.6" y1="989.9" x2="1224.4" y2="989.9" stroke="#000" stroke-width="1.6" />
<line x1="2046.7" y1="989.9" x2="2037.9" y2="989.9" stroke="#000" stroke-width="1.6" />
<line x1="1215.6" y1="1076.1" x2="1224.4" y2="1076.1" stroke="#000" stroke-width="1.6" />
<line x1="2046.7" y1="1076.1" x2="2037.9" y2="1076.1" stroke="#000" stroke-width="1.6" />
<line x1="1215.6" y1="1162.3" x2="1224.4" y2="1162.3" stroke="#000" stroke-width="1.6" />
<line x1="2046.7" y1="1162.3" x2="2037.9" y2="1162.3" stroke="#000" stroke-width="1.6" />
<line x1="1215.6" y1="1248.5" x2="1224.4" y2="1248.5" stroke="#000" stroke-width="1.6" />
<line x1="2046.7" y1="1248.5" x2="2037.9" y2="1248.5" stroke="#000" stroke-width="1.6" />
<line x1="1215.6" y1="1334.7" x2="1224.4" y2="1334.7" stroke="#000" stroke-width="1.6" />
<line x1="2046.7" y1="1334.7" x2="2037.9" y2="1334.7" stroke="#000" stroke-width="1.6" />
<line x1="1215.6" y1="1420.9" x2="1224.4" y2="1420.9" stroke="#000" stroke-width="1.6" />
<line x1="2046.7" y1="1420.9" x2="2037.9" y2="1420.9" stroke="#000" stroke-width="1.6" />
<text x="1177.8" y="871.7" font-size="26.1" fill="#000" textLength="21.2" lengthAdjust="spacingAndGlyphs" font-family="'Liberation Serif', serif" style="font-kerning:none">−</text>
<text x="1199.5" y="870.7" font-size="27.7" fill="#000" textLength="14.3" lengthAdjust="spacingAndGlyphs" font-family="'Liberation Serif', serif" style="font-kerning:none">6</text>
<text x="1177.8" y="957.9" font-size="26.1" fill="#000" textLength="21.2" lengthAdjust="spacingAndGlyphs" font-family="'Liberation Serif', serif" style="font-kerning:none">−</text>
<text x="1199.6" y="956.9" font-size="27.6" fill="#000" textLength="14.4" lengthAdjust="spacingAndGlyphs" font-family="'Liberation Serif', serif" style="font-kerning:none">8</text>
<text x="1164.4" y="1044.1" font-size="26.1" fill="#000" textLength="21.6" lengthAdjust="spacingAndGlyphs" font-family="'Liberation Serif', serif" style="font-kerning:none">−</text>
<text x="1186.4" y="1043.1" font-size="27.6" fill="#000" textLength="27.8" lengthAdjust="spacingAndGlyphs" font-family="'Liberation Serif', serif" style="font-kerning:none">10</text>
<text x="1164.4" y="1130.3" font-size="26.1" fill="#000" textLength="21.6" lengthAdjust="spacingAndGlyphs" font-family="'Liberation Serif', serif" style="font-kerning:none">−</text>
<text x="1186.3" y="1129.6" font-size="28.1" fill="#000" textLength="28.4" lengthAdjust="spacingAndGlyphs" font-family="'Liberation Serif', serif" style="font-kerning:none">12</text>
<text x="1164.4" y="1216.5" font-size="26.1" fill="#000" textLength="21.6" lengthAdjust="spacingAndGlyphs" font-family="'Liberation Serif', serif" style="font-kerning:none">−</text>
<text x="1186.4" y="1215.8" font-size="28.2" fill="#000" textLength="27.1" lengthAdjust="spacingAndGlyphs" font-family="'Liberation Serif', serif" style="font-kerning:none">14</text>
<text x="1164.4" y="1302.7" font-size="26.1" fill="#000" textLength="21.6" lengthAdjust="spacingAndGlyphs" font-family="'Liberation Serif', serif" style="font-kerning:none">−</text>
<text x="1186.4" y="1301.7" font-size="27.7" fill="#000" textLength="27.5" lengthAdjust="spacingAndGlyphs" font-family="'Liberation Serif', serif" style="font-kerning:none">16</text>
<text x="1164.4" y="1388.9" font-size="26.1" fill="#000" textLength="21.6" lengthAdjust="spacingAndGlyphs" font-family="'Liberation Serif', serif" style="font-kerning:none">−</text>
<text x="1186.4" y="1387.9" font-size="27.6" fill="#000" textLength="27.8" lengthAdjust="spacingAndGlyphs" font-family="'Liberation Serif', serif" style="font-kerning:none">18</text>
<text x="1164.4" y="1475.1" font-size="26.1" fill="#000" textLength="21.6" lengthAdjust="spacingAndGlyphs" font-family="'Liberation Serif', serif" style="font-kerning:none">−</text>
<text x="1187.6" y="1474.1" font-size="27.6" fill="#000" textLength="26.5" lengthAdjust="spacingAndGlyphs" font-family="'Liberation Serif', serif" style="font-kerning:none">20</text>
<text x="1422.4" y="1509.5" font-size="27.5" fill="#000" textLength="24.4" lengthAdjust="spacingAndGlyphs" font-family="'Liberation Serif', serif">10</text>
<text x="1446.8" y="1498.5" font-size="19.5" fill="#000" textLength="19.5" lengthAdjust="spacingAndGlyphs" font-family="'Liberation Serif', serif">14</text>
<text x="1699.2" y="1509.5" font-size="27.5" fill="#000" textLength="24.4" lengthAdjust="spacingAndGlyphs" font-family="'Liberation Serif', serif">10</text>
<text x="1723.6" y="1498.5" font-size="19.5" fill="#000" textLength="19.5" lengthAdjust="spacingAndGlyphs" font-family="'Liberation Serif', serif">15</text>
<text x="1976" y="1509.5" font-size="27.5" fill="#000" textLength="24.4" lengthAdjust="spacingAndGlyphs" font-family="'Liberation Serif', serif">10</text>
<text x="2000.4" y="1498.5" font-size="19.5" fill="#000" textLength="19.5" lengthAdjust="spacingAndGlyphs" font-family="'Liberation Serif', serif">16</text>
<text x="1543.6" y="1544.4" font-size="35.7" fill="#000" textLength="174.6" lengthAdjust="spacingAndGlyphs" font-family="'Liberation Serif', serif" style="font-kerning:none">Radius (cm)</text>
<text x="1617.8" y="1589.1" font-size="30.7" fill="#000" textLength="38.1" lengthAdjust="spacingAndGlyphs" font-family="'Liberation Serif', serif" style="font-kerning:none">(c)</text>
<text transform="translate(1152.3 1264.4) rotate(-90)" font-size="34" font-family="'Liberation Serif', serif" textLength="203" lengthAdjust="spacingAndGlyphs">log <tspan font-style="italic">ρ</tspan> (g cm<tspan dy="-13" font-size="23">−3</tspan><tspan dy="13">)</tspan></text></svg>
</body></html>
